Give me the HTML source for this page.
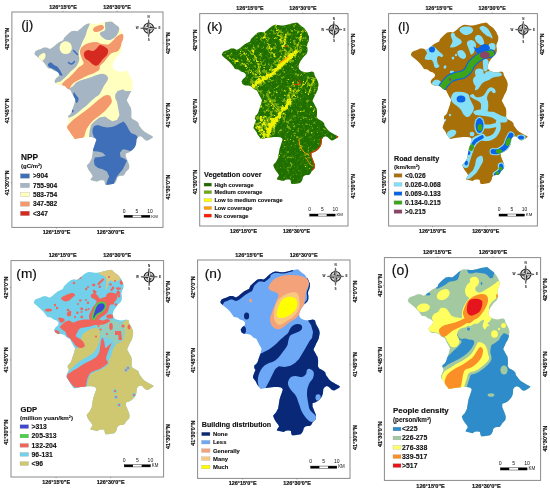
<!DOCTYPE html>
<html><head><meta charset="utf-8"><title>Figure</title>
<style>html,body{margin:0;padding:0;background:#fff}svg{display:block}text{font-family:'Liberation Sans', sans-serif}</style></head><body>
<svg width="550" height="492" viewBox="0 0 550 492">
<rect width="550" height="492" fill="#fff"/>
<defs>
<clipPath id="cj"><polygon points="34.4,53.5 35.6,50.9 37.7,49.9 40.7,48.9 43.8,47.4 46.8,47.4 49.9,48.9 52.5,47.4 55.0,45.4 58.1,42.8 61.1,41.3 63.1,40.3 64.2,37.8 66.2,35.7 68.2,33.7 71.3,31.2 74.4,30.7 77.4,31.2 79.5,29.6 81.5,28.1 83.5,26.1 86.6,24.1 88.6,23.4 91.7,23.6 94.7,24.1 97.3,24.1 99.8,23.6 102.9,22.7 105.4,22.0 108.5,21.5 111.0,21.0 112.6,22.0 114.1,23.6 116.1,25.1 118.2,26.6 119.7,28.6 121.2,30.7 122.2,33.2 123.3,35.2 123.3,37.8 122.8,40.3 121.7,42.3 121.2,44.9 121.7,47.4 121.7,50.4 120.7,53.0 119.2,54.5 117.7,56.0 116.1,58.0 114.6,60.1 113.6,62.1 112.6,65.1 113.1,68.2 115.1,70.2 118.2,71.2 121.2,71.7 123.8,71.2 126.3,70.7 128.4,71.7 128.9,74.3 129.9,76.3 131.4,78.8 132.4,81.4 132.9,83.9 132.4,86.9 131.9,89.5 130.9,92.0 129.4,94.5 128.4,97.1 127.3,99.1 126.8,100.6 127.8,102.2 128.9,104.2 129.9,106.2 130.9,107.7 131.4,110.8 131.4,113.8 131.2,116.9 132.4,118.9 134.5,119.9 137.0,121.4 138.5,122.9 139.1,125.5 140.6,127.5 142.1,129.5 144.2,131.6 146.7,133.1 149.2,134.6 151.3,135.6 153.3,136.9 151.8,138.2 149.2,139.7 147.2,140.7 145.2,140.2 143.6,138.7 142.1,137.1 140.1,136.3 138.0,137.1 136.5,139.2 136.3,141.7 136.0,144.2 135.0,146.8 133.5,148.8 131.4,150.8 128.9,152.4 125.8,153.4 125.8,156.4 126.8,158.9 127.8,161.5 128.9,164.0 129.4,166.6 128.9,169.1 127.3,170.6 125.8,172.1 124.8,174.2 123.3,175.7 120.7,175.7 118.7,176.2 117.2,177.7 116.6,180.2 115.6,182.3 114.1,183.8 111.0,184.3 108.0,184.8 105.4,184.8 104.7,182.8 104.4,180.8 102.9,180.2 100.3,180.2 98.8,180.8 97.3,181.8 95.2,181.3 92.7,180.8 90.5,180.0 91.2,178.2 92.7,176.2 91.7,174.2 90.2,172.1 88.6,170.1 87.6,168.1 86.8,165.5 88.1,164.0 89.6,162.5 90.7,160.5 91.7,158.4 92.2,155.4 92.7,152.4 93.2,149.3 94.2,146.3 95.2,143.2 96.3,140.2 96.3,139.2 94.7,137.7 91.7,137.1 87.6,137.1 83.5,137.7 79.5,138.2 76.9,138.7 74.4,139.2 72.8,137.1 70.8,134.6 69.8,132.1 68.2,130.0 66.7,128.0 67.2,125.5 68.2,122.9 69.3,120.4 68.0,118.4 68.2,115.8 69.8,114.8 71.3,112.8 72.3,109.8 73.3,106.7 74.4,103.7 75.4,99.6 74.9,98.6 73.3,96.1 71.8,93.0 70.3,90.0 67.2,88.5 64.7,85.9 61.6,84.9 58.1,84.9 55.5,83.4 54.5,80.9 56.0,78.3 58.6,76.3 59.1,73.8 57.0,71.7 54.0,70.7 51.4,68.7 47.9,68.2 45.8,65.1 43.8,62.6 41.2,60.1 38.2,57.5 35.1,55.0"/></clipPath>
<clipPath id="ck"><polygon points="221.8,54.5 223.0,52.0 225.0,51.0 228.0,50.0 231.0,48.5 234.0,48.5 237.0,50.0 239.5,48.5 242.0,46.5 245.0,44.0 248.0,42.5 250.0,41.5 251.0,39.0 253.0,37.0 255.0,35.0 258.0,32.5 261.0,32.0 264.0,32.5 266.0,31.0 268.0,29.5 270.0,27.5 273.0,25.5 275.0,24.8 278.0,25.0 281.0,25.5 283.5,25.5 286.0,25.0 289.0,24.2 291.5,23.5 294.5,23.0 297.0,22.5 298.5,23.5 300.0,25.0 302.0,26.5 304.0,28.0 305.5,30.0 307.0,32.0 308.0,34.5 309.0,36.5 309.0,39.0 308.5,41.5 307.5,43.5 307.0,46.0 307.5,48.5 307.5,51.5 306.5,54.0 305.0,55.5 303.5,57.0 302.0,59.0 300.5,61.0 299.5,63.0 298.5,66.0 299.0,69.0 301.0,71.0 304.0,72.0 307.0,72.5 309.5,72.0 312.0,71.5 314.0,72.5 314.5,75.0 315.5,77.0 317.0,79.5 318.0,82.0 318.5,84.5 318.0,87.5 317.5,90.0 316.5,92.5 315.0,95.0 314.0,97.5 313.0,99.5 312.5,101.0 313.5,102.5 314.5,104.5 315.5,106.5 316.5,108.0 317.0,111.0 317.0,114.0 316.8,117.0 318.0,119.0 320.0,120.0 322.5,121.5 324.0,123.0 324.5,125.5 326.0,127.5 327.5,129.5 329.5,131.5 332.0,133.0 334.5,134.5 336.5,135.5 338.5,136.8 337.0,138.0 334.5,139.5 332.5,140.5 330.5,140.0 329.0,138.5 327.5,137.0 325.5,136.2 323.5,137.0 322.0,139.0 321.8,141.5 321.5,144.0 320.5,146.5 319.0,148.5 317.0,150.5 314.5,152.0 311.5,153.0 311.5,156.0 312.5,158.5 313.5,161.0 314.5,163.5 315.0,166.0 314.5,168.5 313.0,170.0 311.5,171.5 310.5,173.5 309.0,175.0 306.5,175.0 304.5,175.5 303.0,177.0 302.5,179.5 301.5,181.5 300.0,183.0 297.0,183.5 294.0,184.0 291.5,184.0 290.8,182.0 290.5,180.0 289.0,179.5 286.5,179.5 285.0,180.0 283.5,181.0 281.5,180.5 279.0,180.0 276.8,179.3 277.5,177.5 279.0,175.5 278.0,173.5 276.5,171.5 275.0,169.5 274.0,167.5 273.2,165.0 274.5,163.5 276.0,162.0 277.0,160.0 278.0,158.0 278.5,155.0 279.0,152.0 279.5,149.0 280.5,146.0 281.5,143.0 282.5,140.0 282.5,139.0 281.0,137.5 278.0,137.0 274.0,137.0 270.0,137.5 266.0,138.0 263.5,138.5 261.0,139.0 259.5,137.0 257.5,134.5 256.5,132.0 255.0,130.0 253.5,128.0 254.0,125.5 255.0,123.0 256.0,120.5 254.8,118.5 255.0,116.0 256.5,115.0 258.0,113.0 259.0,110.0 260.0,107.0 261.0,104.0 262.0,100.0 261.5,99.0 260.0,96.5 258.5,93.5 257.0,90.5 254.0,89.0 251.5,86.5 248.5,85.5 245.0,85.5 242.5,84.0 241.5,81.5 243.0,79.0 245.5,77.0 246.0,74.5 244.0,72.5 241.0,71.5 238.5,69.5 235.0,69.0 233.0,66.0 231.0,63.5 228.5,61.0 225.5,58.5 222.5,56.0"/></clipPath>
<clipPath id="cl"><polygon points="410.8,54.5 412.0,52.0 414.0,51.0 417.0,50.0 420.0,48.5 423.0,48.5 426.0,50.0 428.5,48.5 431.0,46.5 434.1,44.0 437.1,42.5 439.1,41.5 440.1,39.0 442.1,37.0 444.1,35.0 447.1,32.5 450.1,32.0 453.1,32.5 455.1,31.0 457.1,29.5 459.1,27.5 462.1,25.5 464.2,24.8 467.2,25.0 470.2,25.5 472.7,25.5 475.2,25.0 478.2,24.2 480.7,23.5 483.7,23.0 486.2,22.5 487.7,23.5 489.2,25.0 491.2,26.5 493.3,28.0 494.8,30.0 496.3,32.0 497.3,34.5 498.3,36.5 498.3,39.0 497.8,41.5 496.8,43.5 496.3,46.0 496.8,48.5 496.8,51.5 495.8,54.0 494.3,55.5 492.7,57.0 491.2,59.0 489.7,61.0 488.7,63.0 487.7,66.0 488.2,69.0 490.2,71.0 493.3,72.0 496.3,72.5 498.8,72.0 501.3,71.5 503.3,72.5 503.8,75.0 504.8,77.0 506.3,79.5 507.3,82.0 507.8,84.5 507.3,87.5 506.8,90.0 505.8,92.5 504.3,95.0 503.3,97.5 502.3,99.5 501.8,101.0 502.8,102.5 503.8,104.5 504.8,106.5 505.8,108.0 506.3,111.0 506.3,114.0 506.1,117.0 507.3,119.0 509.3,120.0 511.8,121.5 513.3,123.0 513.8,125.5 515.3,127.5 516.8,129.5 518.8,131.5 521.3,133.0 523.9,134.5 525.9,135.5 527.9,136.8 526.4,138.0 523.9,139.5 521.8,140.5 519.8,140.0 518.3,138.5 516.8,137.0 514.8,136.2 512.8,137.0 511.3,139.0 511.1,141.5 510.8,144.0 509.8,146.5 508.3,148.5 506.3,150.5 503.8,152.0 500.8,153.0 500.8,156.0 501.8,158.5 502.8,161.0 503.8,163.5 504.3,166.0 503.8,168.5 502.3,170.0 500.8,171.5 499.8,173.5 498.3,175.0 495.8,175.0 493.8,175.5 492.2,177.0 491.7,179.5 490.7,181.5 489.2,183.0 486.2,183.5 483.2,184.0 480.7,184.0 480.0,182.0 479.7,180.0 478.2,179.5 475.7,179.5 474.2,180.0 472.7,181.0 470.7,180.5 468.2,180.0 466.0,179.3 466.7,177.5 468.2,175.5 467.2,173.5 465.7,171.5 464.2,169.5 463.2,167.5 462.3,165.0 463.7,163.5 465.2,162.0 466.2,160.0 467.2,158.0 467.7,155.0 468.2,152.0 468.7,149.0 469.7,146.0 470.7,143.0 471.7,140.0 471.7,139.0 470.2,137.5 467.2,137.0 463.2,137.0 459.1,137.5 455.1,138.0 452.6,138.5 450.1,139.0 448.6,137.0 446.6,134.5 445.6,132.0 444.1,130.0 442.6,128.0 443.1,125.5 444.1,123.0 445.1,120.5 443.9,118.5 444.1,116.0 445.6,115.0 447.1,113.0 448.1,110.0 449.1,107.0 450.1,104.0 451.1,100.0 450.6,99.0 449.1,96.5 447.6,93.5 446.1,90.5 443.1,89.0 440.6,86.5 437.6,85.5 434.1,85.5 431.5,84.0 430.5,81.5 432.0,79.0 434.6,77.0 435.1,74.5 433.0,72.5 430.0,71.5 427.5,69.5 424.0,69.0 422.0,66.0 420.0,63.5 417.5,61.0 414.5,58.5 411.5,56.0"/></clipPath>
<clipPath id="cm"><polygon points="33.7,302.3 35.0,299.7 37.0,298.7 40.1,297.7 43.2,296.2 46.3,296.2 49.4,297.7 52.0,296.2 54.5,294.1 57.6,291.6 60.7,290.0 62.8,289.0 63.8,286.5 65.8,284.4 67.9,282.4 71.0,279.9 74.1,279.3 77.2,279.9 79.2,278.3 81.3,276.8 83.3,274.8 86.4,272.7 88.5,272.0 91.6,272.2 94.7,272.7 97.2,272.7 99.8,272.2 102.9,271.4 105.5,270.7 108.5,270.2 111.1,269.7 112.7,270.7 114.2,272.2 116.3,273.7 118.3,275.3 119.9,277.3 121.4,279.3 122.4,281.9 123.5,283.9 123.5,286.5 123.0,289.0 121.9,291.1 121.4,293.6 121.9,296.2 121.9,299.2 120.9,301.8 119.4,303.3 117.8,304.8 116.3,306.9 114.7,308.9 113.7,310.9 112.7,314.0 113.2,317.0 115.2,319.1 118.3,320.1 121.4,320.6 124.0,320.1 126.6,319.6 128.6,320.6 129.1,323.2 130.2,325.2 131.7,327.7 132.7,330.3 133.2,332.8 132.7,335.9 132.2,338.4 131.2,341.0 129.6,343.5 128.6,346.1 127.6,348.1 127.1,349.6 128.1,351.2 129.1,353.2 130.2,355.2 131.2,356.8 131.7,359.8 131.7,362.9 131.5,365.9 132.7,368.0 134.8,369.0 137.4,370.5 138.9,372.1 139.4,374.6 141.0,376.6 142.5,378.7 144.6,380.7 147.1,382.2 149.7,383.8 151.8,384.8 153.8,386.1 152.3,387.3 149.7,388.9 147.7,389.9 145.6,389.4 144.0,387.9 142.5,386.3 140.4,385.5 138.4,386.3 136.8,388.4 136.6,390.9 136.3,393.5 135.3,396.0 133.8,398.0 131.7,400.1 129.1,401.6 126.0,402.6 126.0,405.7 127.1,408.2 128.1,410.8 129.1,413.3 129.6,415.9 129.1,418.4 127.6,419.9 126.0,421.5 125.0,423.5 123.5,425.0 120.9,425.0 118.8,425.5 117.3,427.1 116.8,429.6 115.8,431.7 114.2,433.2 111.1,433.7 108.0,434.2 105.5,434.2 104.7,432.2 104.4,430.1 102.9,429.6 100.3,429.6 98.8,430.1 97.2,431.2 95.2,430.6 92.6,430.1 90.3,429.4 91.1,427.6 92.6,425.5 91.6,423.5 90.0,421.5 88.5,419.4 87.5,417.4 86.6,414.9 88.0,413.3 89.5,411.8 90.5,409.8 91.6,407.7 92.1,404.7 92.6,401.6 93.1,398.5 94.1,395.5 95.2,392.4 96.2,389.4 96.2,388.4 94.7,386.8 91.6,386.3 87.5,386.3 83.3,386.8 79.2,387.3 76.6,387.9 74.1,388.4 72.5,386.3 70.5,383.8 69.4,381.2 67.9,379.2 66.4,377.2 66.9,374.6 67.9,372.1 68.9,369.5 67.7,367.5 67.9,364.9 69.4,363.9 71.0,361.9 72.0,358.8 73.0,355.8 74.1,352.7 75.1,348.6 74.6,347.6 73.0,345.1 71.5,342.0 70.0,338.9 66.9,337.4 64.3,334.9 61.2,333.9 57.6,333.9 55.0,332.3 54.0,329.8 55.6,327.2 58.1,325.2 58.6,322.6 56.6,320.6 53.5,319.6 50.9,317.6 47.3,317.0 45.3,314.0 43.2,311.4 40.6,308.9 37.5,306.3 34.5,303.8"/></clipPath>
<clipPath id="cn"><polygon points="220.3,302.1 221.5,299.5 223.6,298.5 226.7,297.4 229.8,295.9 232.8,295.9 235.9,297.4 238.5,295.9 241.1,293.8 244.2,291.3 247.2,289.7 249.3,288.7 250.3,286.1 252.4,284.1 254.4,282.0 257.5,279.4 260.6,278.9 263.7,279.4 265.7,277.9 267.8,276.3 269.8,274.3 272.9,272.2 275.0,271.5 278.1,271.7 281.1,272.2 283.7,272.2 286.3,271.7 289.4,270.9 291.9,270.2 295.0,269.7 297.6,269.2 299.1,270.2 300.7,271.7 302.7,273.3 304.8,274.8 306.3,276.9 307.9,278.9 308.9,281.5 309.9,283.5 309.9,286.1 309.4,288.7 308.4,290.7 307.9,293.3 308.4,295.9 308.4,299.0 307.4,301.5 305.8,303.1 304.3,304.6 302.7,306.7 301.2,308.7 300.2,310.8 299.1,313.9 299.6,317.0 301.7,319.0 304.8,320.0 307.9,320.6 310.4,320.0 313.0,319.5 315.1,320.6 315.6,323.1 316.6,325.2 318.1,327.8 319.2,330.3 319.7,332.9 319.2,336.0 318.7,338.6 317.6,341.1 316.1,343.7 315.1,346.3 314.0,348.3 313.5,349.9 314.5,351.4 315.6,353.5 316.6,355.5 317.6,357.1 318.1,360.2 318.1,363.2 317.9,366.3 319.2,368.4 321.2,369.4 323.8,370.9 325.3,372.5 325.9,375.1 327.4,377.1 328.9,379.2 331.0,381.2 333.6,382.8 336.1,384.3 338.2,385.3 340.2,386.7 338.7,387.9 336.1,389.5 334.1,390.5 332.0,390.0 330.5,388.4 328.9,386.9 326.9,386.1 324.8,386.9 323.3,388.9 323.1,391.5 322.8,394.1 321.7,396.7 320.2,398.7 318.1,400.8 315.6,402.3 312.5,403.3 312.5,406.4 313.5,409.0 314.5,411.6 315.6,414.1 316.1,416.7 315.6,419.3 314.0,420.8 312.5,422.4 311.5,424.4 309.9,426.0 307.4,426.0 305.3,426.5 303.8,428.0 303.2,430.6 302.2,432.6 300.7,434.2 297.6,434.7 294.5,435.2 291.9,435.2 291.2,433.2 290.9,431.1 289.4,430.6 286.8,430.6 285.3,431.1 283.7,432.1 281.7,431.6 279.1,431.1 276.8,430.4 277.6,428.5 279.1,426.5 278.1,424.4 276.5,422.4 275.0,420.3 274.0,418.2 273.1,415.7 274.5,414.1 276.0,412.6 277.0,410.5 278.1,408.5 278.6,405.4 279.1,402.3 279.6,399.2 280.6,396.1 281.7,393.1 282.7,390.0 282.7,388.9 281.1,387.4 278.1,386.9 274.0,386.9 269.8,387.4 265.7,387.9 263.2,388.4 260.6,388.9 259.1,386.9 257.0,384.3 256.0,381.7 254.4,379.7 252.9,377.6 253.4,375.1 254.4,372.5 255.5,369.9 254.2,367.9 254.4,365.3 256.0,364.3 257.5,362.2 258.5,359.1 259.6,356.0 260.6,353.0 261.6,348.8 261.1,347.8 259.6,345.2 258.0,342.2 256.5,339.1 253.4,337.5 250.8,335.0 247.7,333.9 244.2,333.9 241.6,332.4 240.6,329.8 242.1,327.2 244.7,325.2 245.2,322.6 243.1,320.6 240.0,319.5 237.5,317.5 233.9,317.0 231.8,313.9 229.8,311.3 227.2,308.7 224.1,306.2 221.0,303.6"/></clipPath>
<clipPath id="co"><polygon points="407.7,300.5 408.9,297.9 411.0,296.8 414.2,295.8 417.4,294.2 420.5,294.2 423.7,295.8 426.3,294.2 429.0,292.1 432.1,289.5 435.3,287.9 437.4,286.9 438.4,284.2 440.5,282.1 442.6,280.0 445.8,277.4 449.0,276.9 452.1,277.4 454.2,275.9 456.3,274.3 458.4,272.2 461.6,270.1 463.7,269.3 466.9,269.6 470.0,270.1 472.7,270.1 475.3,269.6 478.5,268.7 481.1,268.0 484.3,267.5 486.9,266.9 488.5,268.0 490.0,269.6 492.1,271.1 494.3,272.7 495.8,274.8 497.4,276.9 498.5,279.5 499.5,281.6 499.5,284.2 499.0,286.9 497.9,289.0 497.4,291.6 497.9,294.2 497.9,297.4 496.9,300.0 495.3,301.6 493.7,303.1 492.1,305.2 490.6,307.3 489.5,309.4 488.5,312.6 489.0,315.7 491.1,317.8 494.3,318.9 497.4,319.4 500.0,318.9 502.7,318.3 504.8,319.4 505.3,322.0 506.4,324.1 507.9,326.7 509.0,329.3 509.5,332.0 509.0,335.1 508.5,337.7 507.4,340.4 505.8,343.0 504.8,345.6 503.7,347.7 503.2,349.3 504.3,350.9 505.3,353.0 506.4,355.0 507.4,356.6 507.9,359.8 507.9,362.9 507.7,366.1 509.0,368.2 511.1,369.2 513.7,370.8 515.3,372.4 515.8,375.0 517.4,377.1 519.0,379.2 521.1,381.3 523.7,382.8 526.4,384.4 528.5,385.5 530.6,386.8 529.0,388.1 526.4,389.7 524.3,390.7 522.2,390.2 520.6,388.6 519.0,387.0 516.9,386.2 514.8,387.0 513.2,389.1 513.0,391.8 512.7,394.4 511.6,397.0 510.1,399.1 507.9,401.2 505.3,402.8 502.2,403.8 502.2,407.0 503.2,409.6 504.3,412.2 505.3,414.8 505.8,417.5 505.3,420.1 503.7,421.7 502.2,423.2 501.1,425.3 499.5,426.9 496.9,426.9 494.8,427.4 493.2,429.0 492.7,431.6 491.6,433.7 490.0,435.3 486.9,435.8 483.7,436.3 481.1,436.3 480.4,434.2 480.0,432.1 478.5,431.6 475.8,431.6 474.2,432.1 472.7,433.2 470.6,432.7 467.9,432.1 465.6,431.4 466.3,429.5 467.9,427.4 466.9,425.3 465.3,423.2 463.7,421.1 462.7,419.0 461.8,416.4 463.2,414.8 464.8,413.3 465.8,411.2 466.9,409.1 467.4,405.9 467.9,402.8 468.5,399.6 469.5,396.5 470.6,393.3 471.6,390.2 471.6,389.1 470.0,387.6 466.9,387.0 462.7,387.0 458.4,387.6 454.2,388.1 451.6,388.6 449.0,389.1 447.4,387.0 445.3,384.4 444.2,381.8 442.6,379.7 441.1,377.6 441.6,375.0 442.6,372.4 443.7,369.7 442.4,367.6 442.6,365.0 444.2,364.0 445.8,361.9 446.9,358.7 447.9,355.6 449.0,352.4 450.0,348.2 449.5,347.2 447.9,344.6 446.3,341.4 444.8,338.3 441.6,336.7 439.0,334.1 435.8,333.0 432.1,333.0 429.5,331.4 428.4,328.8 430.0,326.2 432.6,324.1 433.2,321.5 431.1,319.4 427.9,318.3 425.3,316.2 421.6,315.7 419.5,312.6 417.4,309.9 414.7,307.3 411.6,304.7 408.4,302.1"/></clipPath>
<pattern id="dith" width="2.4" height="2.4" patternUnits="userSpaceOnUse"><rect width="2.4" height="2.4" fill="#72D0EA"/><rect width="1.2" height="1.2" fill="#D0C870"/><rect x="1.2" y="1.2" width="1.2" height="1.2" fill="#D0C870" opacity="0.5"/></pattern><filter id="spk" x="0" y="0" width="100%" height="100%" color-interpolation-filters="sRGB"><feTurbulence type="fractalNoise" baseFrequency="0.42" numOctaves="2" seed="7"/><feColorMatrix type="matrix" values="0 0 0 0 0.46  0 0 0 0 0.68  0 0 0 0 0.06  9 0 0 0 -4.6"/></filter><filter id="spk2" x="0" y="0" width="100%" height="100%" color-interpolation-filters="sRGB"><feTurbulence type="fractalNoise" baseFrequency="0.5" numOctaves="2" seed="23"/><feColorMatrix type="matrix" values="0 0 0 0 0.86  0 0 0 0 0.92  0 0 0 0 0.08  0 10 0 0 -4.7"/></filter><filter id="bl3"><feGaussianBlur stdDeviation="2.2"/></filter><filter id="bl1"><feGaussianBlur stdDeviation="0.7"/></filter><pattern id="dith2" width="2.4" height="2.4" patternUnits="userSpaceOnUse"><rect width="2.4" height="2.4" fill="#D0C870"/><rect width="1.2" height="1.2" fill="#72D0EA"/></pattern>
</defs>
<g id="panel-j">
<rect x="11.9" y="12.0" width="151.1" height="215.4" fill="#fff" stroke="#8a8a8a" stroke-width="1"/>
<g clip-path="url(#cj)">
<rect x="11.9" y="12.0" width="151.1" height="215.4" fill="#FFFFBF"/><path d="M90.4,16.0C102.5,17.5 90.3,21.5 89.8,24.0C89.2,26.5 88.2,27.3 87.4,29.4C86.6,31.5 86.4,33.2 85.6,35.4C84.8,37.6 83.8,39.0 82.8,41.2C81.8,43.4 81.2,45.0 80.4,47.2C79.6,49.4 78.8,50.7 78.6,53.0C78.4,55.3 79.6,57.5 79.2,60.0C78.8,62.5 77.8,64.2 76.2,66.4C74.6,68.6 72.3,69.9 70.4,71.8C68.5,73.7 67.4,75.3 65.6,77.0C63.8,78.7 62.6,80.1 60.8,81.2C59.0,82.3 57.6,81.8 55.6,83.0C53.6,84.2 55.8,87.1 50.0,88.0C44.2,88.9 28.8,101.2 24.0,88.0C19.2,74.8 11.8,29.2 24.0,16.0C36.2,2.8 78.3,14.5 90.4,16.0Z" fill="#A5B5C4" /><ellipse cx="65.7" cy="47.7" rx="6.2" ry="6.4" fill="#FFFFBF" transform="rotate(0 65.7 47.7)"/><path d="M39.0,56.0C39.9,54.5 42.8,53.0 44.0,53.0C45.2,53.0 45.7,54.6 45.5,56.0C45.3,57.4 44.2,59.6 43.0,60.5C41.8,61.4 39.7,61.8 39.0,61.0C38.3,60.2 38.1,57.5 39.0,56.0Z" fill="#FFFFBF" /><path d="M106.0,22.0C107.7,21.4 111.6,21.1 114.0,22.0C116.4,22.9 118.3,25.0 119.0,27.0C119.7,29.0 118.9,31.0 118.0,33.0C117.1,35.0 115.8,36.7 114.0,38.0C112.2,39.3 110.2,40.2 108.0,40.0C105.8,39.8 103.5,38.3 102.0,37.0C100.5,35.7 99.5,34.3 100.0,33.0C100.5,31.7 104.1,31.5 105.0,30.0C105.9,28.5 104.8,26.5 105.0,25.0C105.2,23.5 104.3,22.6 106.0,22.0Z" fill="#A5B5C4" /><path d="M73.3,85.7C74.5,84.6 75.1,83.3 76.8,82.2C78.5,81.1 80.5,80.6 82.7,79.8C84.9,79.0 86.4,78.8 88.6,78.0C90.8,77.2 92.4,76.5 94.6,75.7C96.8,74.9 98.6,74.1 100.5,73.9C102.4,73.7 103.8,73.7 105.2,74.5C106.6,75.3 107.9,76.6 108.1,78.0C108.3,79.4 107.2,80.8 106.4,82.2C105.6,83.6 104.9,84.2 104.0,85.7C103.1,87.2 102.5,88.9 101.6,90.5C100.7,92.1 100.6,93.2 99.3,94.6C98.0,96.0 96.2,96.8 94.6,98.1C93.0,99.4 91.9,100.3 90.4,101.7C88.9,103.1 87.9,104.4 86.3,105.8C84.7,107.2 83.2,108.0 81.5,109.4C79.8,110.8 78.5,112.2 76.8,113.5C75.1,114.8 73.7,115.7 72.1,116.5C70.5,117.3 69.9,117.3 68.0,117.6C66.1,117.9 63.1,122.7 62.0,118.0C60.9,113.3 60.5,97.5 62.0,92.0C63.5,86.5 67.9,89.2 70.0,88.0C72.1,86.8 72.1,86.8 73.3,85.7Z" fill="#A5B5C4" /><polygon points="135.0,92.0 130.0,91.0 125.3,91.0 122.9,89.3 117.6,91.0 115.2,94.6 115.2,98.1 117.0,102.0 118.2,108.2 119.4,115.3 117.0,120.0 112.3,121.2 108.1,118.8 105.2,116.5 99.3,117.6 94.0,121.8 91.0,125.0 89.6,131.0 89.0,137.0 84.0,140.0 70.0,142.0 70.0,200.0 170.0,200.0 170.0,92.0" fill="#A5B5C4" /><polygon points="94.0,126.0 98.0,125.0 102.0,126.5 107.0,127.5 112.0,127.0 116.0,125.5 119.5,123.5 123.5,121.5 125.0,123.0 127.0,126.0 129.0,130.0 131.0,133.0 136.0,135.0 139.0,139.0 138.5,146.0 135.5,150.0 129.9,151.0 126.4,149.8 122.8,149.2 119.9,152.7 120.5,156.9 124.0,158.6 127.0,160.4 125.2,164.6 122.8,169.3 119.9,172.8 116.9,176.4 115.1,180.5 112.8,186.0 105.7,186.0 107.5,179.9 109.2,176.4 106.9,171.6 102.7,169.3 98.0,168.1 94.5,165.1 93.9,160.4 95.0,157.5 100.4,156.9 105.7,155.7 102.7,152.7 98.0,151.5 91.0,151.0 91.0,139.0 94.0,137.0 92.5,133.0 92.5,129.5" fill="#3F6FB8" /><path d="M48.5,63.5C49.0,63.0 50.0,62.2 51.0,62.5C52.0,62.8 52.9,64.3 54.0,65.0C55.1,65.7 56.0,65.7 57.0,66.5C58.0,67.3 58.7,68.3 59.5,69.5C60.3,70.7 61.0,71.9 61.5,73.0C62.0,74.1 62.8,75.1 62.5,75.5C62.2,75.9 60.9,75.6 60.0,75.0C59.1,74.4 58.4,72.9 57.5,72.0C56.6,71.1 56.0,70.6 55.0,70.0C54.0,69.4 53.0,69.0 52.0,68.5C51.0,68.0 50.2,68.0 49.5,67.5C48.8,67.0 48.2,66.2 48.0,65.5C47.8,64.8 48.0,64.0 48.5,63.5Z" fill="#3F6FB8" /><path d="M68.5,62.5C69.0,62.8 70.4,64.2 71.5,64.0C72.6,63.8 74.0,62.0 74.5,61.5" fill="none" stroke="#3F6FB8" stroke-width="1.50" stroke-linecap="round" stroke-linejoin="round" /><path d="M73.5,50.5C74.2,51.2 76.8,53.8 77.5,54.5" fill="none" stroke="#3F6FB8" stroke-width="1.60" stroke-linecap="round" stroke-linejoin="round" /><path d="M73.9,92.2C74.4,92.1 75.3,94.0 76.2,95.2C77.1,96.4 78.5,97.3 78.6,98.7C78.7,100.1 77.5,102.7 76.8,102.9C76.1,103.1 75.6,101.3 75.0,100.0C74.4,98.7 73.7,97.2 73.5,95.8C73.3,94.4 73.4,92.3 73.9,92.2Z" fill="#3F6FB8" /><ellipse cx="72.7" cy="111.0" rx="1.0" ry="1.5" fill="#3F6FB8" transform="rotate(0 72.7 111.0)"/><path d="M93.0,29.0C93.4,27.9 95.3,26.7 97.0,26.0C98.7,25.3 100.7,24.6 102.0,25.0C103.3,25.4 104.4,26.9 104.0,28.0C103.6,29.1 101.7,30.3 100.0,31.0C98.3,31.7 96.3,32.4 95.0,32.0C93.7,31.6 92.6,30.1 93.0,29.0Z" fill="#F4996D" /><path d="M80.0,51.0C80.3,48.8 81.3,47.5 83.0,46.0C84.7,44.5 86.6,43.7 89.0,43.0C91.4,42.3 93.6,41.8 96.0,42.0C98.4,42.2 99.8,43.6 102.0,44.0C104.2,44.4 106.5,44.6 108.0,44.4C109.5,44.2 109.4,43.8 110.4,43.0C111.4,42.2 112.3,41.2 113.5,40.0C114.7,38.8 115.5,37.5 117.0,36.4C118.5,35.3 120.4,34.3 121.6,34.0C122.8,33.7 123.3,33.7 123.8,34.8C124.3,35.9 124.9,37.9 124.4,40.0C123.9,42.1 122.2,44.0 121.0,46.0C119.8,48.0 119.7,49.7 118.0,51.0C116.3,52.3 113.8,51.9 112.0,53.0C110.2,54.1 109.5,55.4 108.0,57.0C106.5,58.6 105.5,60.4 104.0,62.0C102.5,63.6 100.9,64.6 100.0,66.0C99.1,67.4 100.3,68.6 99.3,69.8C98.3,71.0 96.6,71.7 94.6,72.7C92.6,73.7 90.8,74.1 88.6,75.1C86.4,76.1 84.9,76.9 82.7,78.0C80.5,79.1 78.8,79.8 76.8,81.0C74.8,82.2 73.4,82.9 72.0,84.4C70.6,85.9 70.2,88.2 69.0,89.0C67.8,89.8 66.7,89.4 65.5,89.0C64.3,88.6 63.2,87.6 62.5,86.7C61.8,85.8 61.4,85.5 61.9,84.3C62.4,83.1 64.1,81.6 65.5,80.2C66.9,78.8 68.0,78.4 69.7,76.9C71.4,75.4 73.0,73.7 74.5,72.1C76.0,70.5 76.7,69.2 78.0,68.0C79.3,66.8 80.6,66.5 81.6,65.6C82.6,64.7 83.6,64.4 83.6,63.0C83.6,61.6 82.3,60.2 81.6,58.0C80.9,55.8 79.7,53.2 80.0,51.0Z" fill="#F4996D" /><path d="M84.0,53.0C84.5,51.5 86.3,50.4 88.0,50.0C89.7,49.6 91.3,51.4 93.0,51.0C94.7,50.6 95.7,49.1 97.0,48.0C98.3,46.9 98.5,45.2 100.0,45.0C101.5,44.8 103.5,46.1 105.0,47.0C106.5,47.9 107.6,48.5 108.0,50.0C108.4,51.5 107.9,53.4 107.0,55.0C106.1,56.6 104.3,57.5 103.0,59.0C101.7,60.5 101.1,61.8 100.0,63.0C98.9,64.2 98.3,65.3 97.0,65.6C95.7,65.9 94.5,65.2 93.0,64.4C91.5,63.6 90.5,62.2 89.0,61.0C87.5,59.8 85.9,59.5 85.0,58.0C84.1,56.5 83.5,54.5 84.0,53.0Z" fill="#D62A20" /><path d="M105.0,95.5C106.2,95.0 107.0,94.8 108.0,95.0C109.0,95.2 109.8,95.4 110.5,96.4C111.2,97.4 111.6,99.2 111.7,100.5C111.8,101.8 112.1,101.9 111.1,103.5C110.1,105.1 108.3,107.3 106.4,109.4C104.5,111.5 102.7,112.8 100.5,114.7C98.3,116.6 96.3,117.7 94.3,119.5C92.3,121.3 91.1,122.6 89.6,124.6C88.1,126.6 87.0,128.3 86.0,130.5C85.0,132.7 85.1,135.0 84.2,136.4C83.3,137.8 82.9,137.6 81.3,138.1C79.7,138.6 76.9,139.6 75.4,139.3C73.9,139.0 74.2,137.9 73.0,136.4C71.8,134.9 70.1,132.7 69.0,131.0C67.9,129.3 67.0,128.3 67.1,126.9C67.2,125.5 68.1,124.9 69.5,123.4C70.9,121.9 72.3,120.6 74.5,118.8C76.7,117.0 78.9,115.4 81.5,113.5C84.1,111.6 86.0,110.3 88.6,108.2C91.2,106.1 93.3,104.3 95.7,102.3C98.1,100.3 99.9,98.7 101.6,97.5C103.3,96.3 103.8,96.0 105.0,95.5Z" fill="#F4996D" />
</g>
<text x="63.06" y="8.74" font-size="5.40" font-weight="bold" text-anchor="middle" fill="#111" stroke="#111" stroke-width="0.18">126°15'0&quot;E</text><line x1="63.06" y1="10.80" x2="63.06" y2="12.00" stroke="#777" stroke-width="0.6"/><text x="117.04" y="8.74" font-size="5.40" font-weight="bold" text-anchor="middle" fill="#111" stroke="#111" stroke-width="0.18">126°30'0&quot;E</text><line x1="117.04" y1="10.80" x2="117.04" y2="12.00" stroke="#777" stroke-width="0.6"/><text x="56.57" y="234.33" font-size="5.40" font-weight="bold" text-anchor="middle" fill="#111" stroke="#111" stroke-width="0.18">126°15'0&quot;E</text><line x1="56.57" y1="227.40" x2="56.57" y2="228.60" stroke="#777" stroke-width="0.6"/><text x="110.54" y="234.33" font-size="5.40" font-weight="bold" text-anchor="middle" fill="#111" stroke="#111" stroke-width="0.18">126°30'0&quot;E</text><line x1="110.54" y1="227.40" x2="110.54" y2="228.60" stroke="#777" stroke-width="0.6"/><text transform="translate(9.15,38.88) rotate(-90)" font-size="5.40" font-weight="bold" text-anchor="middle" fill="#111" stroke="#111" stroke-width="0.18">42°0'0&quot;N</text><line x1="10.70" y1="38.88" x2="11.90" y2="38.88" stroke="#777" stroke-width="0.6"/><text transform="translate(9.15,110.87) rotate(-90)" font-size="5.40" font-weight="bold" text-anchor="middle" fill="#111" stroke="#111" stroke-width="0.18">41°45'0&quot;N</text><line x1="10.70" y1="110.87" x2="11.90" y2="110.87" stroke="#777" stroke-width="0.6"/><text transform="translate(9.15,182.77) rotate(-90)" font-size="5.40" font-weight="bold" text-anchor="middle" fill="#111" stroke="#111" stroke-width="0.18">41°30'0&quot;N</text><line x1="10.70" y1="182.77" x2="11.90" y2="182.77" stroke="#777" stroke-width="0.6"/><text transform="translate(169.62,43.08) rotate(-90)" font-size="5.40" font-weight="bold" text-anchor="middle" fill="#111" stroke="#111" stroke-width="0.18">42°0'0&quot;N</text><line x1="163.00" y1="43.08" x2="164.20" y2="43.08" stroke="#777" stroke-width="0.6"/><text transform="translate(169.62,115.09) rotate(-90)" font-size="5.40" font-weight="bold" text-anchor="middle" fill="#111" stroke="#111" stroke-width="0.18">41°45'0&quot;N</text><line x1="163.00" y1="115.09" x2="164.20" y2="115.09" stroke="#777" stroke-width="0.6"/><text transform="translate(169.62,187.10) rotate(-90)" font-size="5.40" font-weight="bold" text-anchor="middle" fill="#111" stroke="#111" stroke-width="0.18">41°30'0&quot;N</text><line x1="163.00" y1="187.10" x2="164.20" y2="187.10" stroke="#777" stroke-width="0.6"/>
<g transform="translate(148.65,28.20) scale(1.019)"><circle r="4.8" fill="#fff" stroke="#1a1a1a" stroke-width="1.05"/><circle r="3.1" fill="#f3f9fb" stroke="#777" stroke-width="0.3"/><path d="M0,0 L-0.9,-0.9 L-4.3,-4.3 L-0.9,0.9 Z M0,0 L0.9,-0.9 L4.3,-4.3 L0.9,0.9Z M0,0 L0.9,0.9 L4.3,4.3 L-0.9,0.9Z M0,0 L-0.9,0.9 L-4.3,4.3 L-0.9,-0.9Z" fill="#555" opacity="0.28"/><path d="M0,-8.4 L1.4,-1.4 L8,0 L1.4,1.4 L0,8.8 L-1.4,1.4 L-8,0 L-1.4,-1.4 Z" fill="#fff" stroke="#222" stroke-width="0.45"/><path d="M0,-8.4 L0,0 L-1.4,-1.4 Z M8,0 L0,0 L1.4,-1.4 Z M0,8.8 L0,0 L1.4,1.4Z M-8,0 L0,0 L-1.4,1.4Z" fill="#222"/><text x="0.0" y="-10.0" font-size="3" font-weight="bold" text-anchor="middle" fill="#111">N</text><text x="0.0" y="12.9" font-size="3" font-weight="bold" text-anchor="middle" fill="#111">S</text><text x="-11.3" y="1.0" font-size="3" font-weight="bold" text-anchor="middle" fill="#111">W</text><text x="10.7" y="1.0" font-size="3" font-weight="bold" text-anchor="middle" fill="#111">E</text></g>
<rect x="124.02" y="215.24" width="25.91" height="2.14" fill="#fff" stroke="#000" stroke-width="0.4"/><rect x="124.02" y="215.24" width="8.64" height="2.14" fill="#000"/><rect x="141.29" y="215.24" width="8.64" height="2.14" fill="#000"/><text x="124.02" y="212.64" font-size="4.99" text-anchor="middle" fill="#111">0</text><text x="136.97" y="212.64" font-size="4.99" text-anchor="middle" fill="#111">5</text><text x="149.93" y="212.64" font-size="4.99" text-anchor="middle" fill="#111">10</text><text x="151.25" y="217.63" font-size="4.38" fill="#111">KM</text>
<text x="21.0" y="159.7" font-size="8.3" font-weight="bold" fill="#111" stroke="#111" stroke-width="0.15">NPP</text><text x="21.0" y="168.4" font-size="6.0" font-weight="bold" fill="#111" stroke="#111" stroke-width="0.1">(gC/m²)</text><rect x="20.4" y="173.75" width="9.1" height="4.5" fill="#3F6FB8" stroke="#999" stroke-width="0.25"/><text x="33.0" y="178.38" font-size="6.6" font-weight="bold" fill="#111" stroke="#111" stroke-width="0.12">&gt;904</text><rect x="20.4" y="183.15" width="9.1" height="4.5" fill="#A5B5C4" stroke="#999" stroke-width="0.25"/><text x="33.0" y="187.78" font-size="6.6" font-weight="bold" fill="#111" stroke="#111" stroke-width="0.12">755-904</text><rect x="20.4" y="192.35" width="9.1" height="4.5" fill="#FFFFBF" stroke="#999" stroke-width="0.25"/><text x="33.0" y="196.98" font-size="6.6" font-weight="bold" fill="#111" stroke="#111" stroke-width="0.12">583-754</text><rect x="20.4" y="201.75" width="9.1" height="4.5" fill="#F4996D" stroke="#999" stroke-width="0.25"/><text x="33.0" y="206.38" font-size="6.6" font-weight="bold" fill="#111" stroke="#111" stroke-width="0.12">347-582</text><rect x="20.4" y="211.15" width="9.1" height="4.5" fill="#D62A20" stroke="#999" stroke-width="0.25"/><text x="33.0" y="215.78" font-size="6.6" font-weight="bold" fill="#111" stroke="#111" stroke-width="0.12">&lt;347</text>
<text x="27.3" y="29.2" font-size="13.6" text-anchor="middle" fill="#111" stroke="#111" stroke-width="0.2">(j)</text>
</g>
<g id="panel-k">
<rect x="199.7" y="13.6" width="148.3" height="212.4" fill="#fff" stroke="#8a8a8a" stroke-width="1"/>
<g clip-path="url(#ck)">
<rect x="199.7" y="13.6" width="148.3" height="212.4" fill="#1F6E00"/><filter id="vg1" x="200" y="14" width="148" height="212" filterUnits="userSpaceOnUse" color-interpolation-filters="sRGB"><feGaussianBlur in="SourceGraphic" stdDeviation="2.4" result="m"/><feTurbulence type="fractalNoise" baseFrequency="0.30" numOctaves="2" seed="7" result="n0"/><feColorMatrix in="n0" type="matrix" values="1 0 0 0 0 0 1 0 0 0 0 0 1 0 0 0 0 0 0 1" result="n"/><feComposite in="n" in2="m" operator="arithmetic" k1="0" k2="1" k3="0.40" k4="0" result="c"/><feColorMatrix in="c" type="matrix" values="0 0 0 0 0.46  0 0 0 0 0.67  0 0 0 0 0.05  9.0 0 0 0 -6.50"/></filter><filter id="vg2" x="200" y="14" width="148" height="212" filterUnits="userSpaceOnUse" color-interpolation-filters="sRGB"><feGaussianBlur in="SourceGraphic" stdDeviation="1.8" result="m"/><feTurbulence type="fractalNoise" baseFrequency="0.38" numOctaves="2" seed="23" result="n0"/><feColorMatrix in="n0" type="matrix" values="1 0 0 0 0 0 1 0 0 0 0 0 1 0 0 0 0 0 0 1" result="n"/><feComposite in="n" in2="m" operator="arithmetic" k1="0" k2="1" k3="0.40" k4="0" result="c"/><feColorMatrix in="c" type="matrix" values="0 0 0 0 0.90  0 0 0 0 0.93  0 0 0 0 0.05  9.0 0 0 0 -6.50"/></filter><filter id="vg0" x="200" y="14" width="148" height="212" filterUnits="userSpaceOnUse" color-interpolation-filters="sRGB"><feGaussianBlur in="SourceGraphic" stdDeviation="2.0" result="m"/><feTurbulence type="fractalNoise" baseFrequency="0.33" numOctaves="2" seed="41" result="n0"/><feColorMatrix in="n0" type="matrix" values="1 0 0 0 0 0 1 0 0 0 0 0 1 0 0 0 0 0 0 1" result="n"/><feComposite in="n" in2="m" operator="arithmetic" k1="0" k2="1" k3="0.20" k4="0" result="c"/><feColorMatrix in="c" type="matrix" values="0 0 0 0 0.22  0 0 0 0 0.52  0 0 0 0 0.03  8.0 0 0 0 -4.50"/></filter><g filter="url(#vg0)" opacity="0.55"><rect x="200" y="14" width="148" height="212" fill="#fff" opacity="0.2"/></g><g filter="url(#vg1)"><rect x="248" y="14" width="100" height="118" fill="#fff" opacity="0.3"/><rect x="200" y="14" width="48" height="118" fill="#fff" opacity="0.1"/><rect x="200" y="132" width="148" height="30" fill="#fff" opacity="0.16"/><path d="M297.0,51.0C296.1,51.7 293.8,53.5 292.0,55.0C290.2,56.5 288.8,57.5 287.0,59.0C285.2,60.5 283.6,61.4 282.0,63.0C280.4,64.7 279.6,66.2 278.0,68.0C276.4,69.8 275.0,71.3 273.0,73.0C271.0,74.7 269.2,75.6 267.0,77.0C264.8,78.4 263.0,79.2 261.0,80.5C259.0,81.8 257.6,82.7 256.0,84.0C254.3,85.3 252.7,86.9 252.0,87.5" fill="none" stroke="#fff" stroke-width="7.00" stroke-linecap="round" stroke-linejoin="round" /><path d="M290.0,100.0C289.4,100.9 288.5,103.0 287.0,105.0C285.5,107.0 283.8,108.6 282.0,111.0C280.2,113.4 278.6,115.6 277.0,118.0C275.4,120.4 274.3,121.8 273.0,124.0C271.7,126.2 270.9,127.6 270.0,130.0C269.1,132.4 268.4,135.7 268.0,137.0" fill="none" stroke="#fff" stroke-width="7.00" stroke-linecap="round" stroke-linejoin="round" /><path d="M290.0,100.0C289.8,98.7 288.7,95.6 289.0,93.0C289.3,90.4 290.7,87.7 291.5,86.0C292.3,84.3 293.1,84.4 293.5,84.0" fill="none" stroke="#fff" stroke-width="3.20" stroke-linecap="round" stroke-linejoin="round" opacity="0.7"/><path d="M290.0,100.0C291.3,98.3 294.6,93.8 297.0,91.0C299.4,88.2 301.2,86.8 303.0,85.0C304.8,83.2 306.3,81.7 307.0,81.0" fill="none" stroke="#fff" stroke-width="3.20" stroke-linecap="round" stroke-linejoin="round" opacity="0.7"/><path d="M275.0,25.0C275.7,26.6 277.7,30.9 279.0,34.0C280.3,37.1 281.1,39.2 282.0,42.0C282.9,44.8 283.1,46.6 284.0,49.0C284.9,51.4 286.4,53.9 287.0,55.0" fill="none" stroke="#fff" stroke-width="3.20" stroke-linecap="round" stroke-linejoin="round" opacity="0.7"/><path d="M303.0,30.0C302.4,31.5 300.9,35.2 300.0,38.0C299.1,40.8 298.9,42.8 298.0,45.0C297.1,47.2 295.6,49.1 295.0,50.0" fill="none" stroke="#fff" stroke-width="3.20" stroke-linecap="round" stroke-linejoin="round" opacity="0.7"/><path d="M288.0,32.0C287.4,33.5 285.7,37.4 285.0,40.0C284.3,42.6 284.2,44.9 284.0,46.0" fill="none" stroke="#fff" stroke-width="3.20" stroke-linecap="round" stroke-linejoin="round" opacity="0.7"/><path d="M252.0,49.0C252.6,50.3 253.9,53.2 255.0,56.0C256.1,58.8 257.1,61.1 258.0,64.0C258.9,66.9 259.4,69.4 260.0,72.0C260.6,74.6 260.8,76.9 261.0,78.0" fill="none" stroke="#fff" stroke-width="3.20" stroke-linecap="round" stroke-linejoin="round" opacity="0.7"/><path d="M227.0,56.0C228.5,56.7 232.2,58.7 235.0,60.0C237.8,61.3 239.8,61.7 242.0,63.0C244.2,64.3 245.2,65.3 247.0,67.0C248.8,68.7 250.5,70.3 252.0,72.0C253.5,73.7 254.4,75.3 255.0,76.0" fill="none" stroke="#fff" stroke-width="3.20" stroke-linecap="round" stroke-linejoin="round" opacity="0.7"/><path d="M315.0,78.0C314.3,79.5 312.1,83.1 311.0,86.0C309.9,88.9 309.4,92.5 309.0,94.0" fill="none" stroke="#fff" stroke-width="3.20" stroke-linecap="round" stroke-linejoin="round" opacity="0.7"/><path d="M262.0,120.0C262.7,121.1 264.9,123.8 266.0,126.0C267.1,128.2 267.6,130.9 268.0,132.0" fill="none" stroke="#fff" stroke-width="3.20" stroke-linecap="round" stroke-linejoin="round" opacity="0.7"/><path d="M258.0,128.0C258.9,128.9 261.4,131.5 263.0,133.0C264.6,134.5 266.3,135.4 267.0,136.0" fill="none" stroke="#fff" stroke-width="3.20" stroke-linecap="round" stroke-linejoin="round" opacity="0.7"/><path d="M268.0,98.0C268.7,99.1 270.2,101.8 272.0,104.0C273.8,106.2 276.9,108.9 278.0,110.0" fill="none" stroke="#fff" stroke-width="3.20" stroke-linecap="round" stroke-linejoin="round" opacity="0.7"/><path d="M242.0,50.0C242.7,51.1 244.5,53.8 246.0,56.0C247.5,58.2 249.3,60.9 250.0,62.0" fill="none" stroke="#fff" stroke-width="3.20" stroke-linecap="round" stroke-linejoin="round" opacity="0.7"/><path d="M265.0,35.0C265.6,36.6 266.7,40.9 268.0,44.0C269.3,47.1 270.4,49.4 272.0,52.0C273.6,54.6 276.1,56.9 277.0,58.0" fill="none" stroke="#fff" stroke-width="3.20" stroke-linecap="round" stroke-linejoin="round" opacity="0.7"/><path d="M299.0,139.0C299.2,140.3 299.1,143.6 300.0,146.0C300.9,148.4 302.4,150.3 304.0,152.0C305.6,153.7 308.1,154.4 309.0,155.0" fill="none" stroke="#fff" stroke-width="3.20" stroke-linecap="round" stroke-linejoin="round" opacity="0.7"/><path d="M306.0,158.0C306.7,159.1 308.7,162.5 310.0,164.0C311.3,165.5 312.4,165.6 313.0,166.0" fill="none" stroke="#fff" stroke-width="3.20" stroke-linecap="round" stroke-linejoin="round" opacity="0.7"/><path d="M290.0,120.0C290.4,121.8 290.9,126.7 292.0,130.0C293.1,133.3 295.3,136.5 296.0,138.0" fill="none" stroke="#fff" stroke-width="3.20" stroke-linecap="round" stroke-linejoin="round" opacity="0.7"/><path d="M284.0,150.0C284.7,151.8 286.9,156.3 288.0,160.0C289.1,163.7 289.6,168.2 290.0,170.0" fill="none" stroke="#fff" stroke-width="3.20" stroke-linecap="round" stroke-linejoin="round" opacity="0.7"/><path d="M258.0,118.0C260.0,115.4 263.1,114.0 266.0,114.0C268.9,114.0 272.9,115.1 274.0,118.0C275.1,120.9 273.1,126.3 272.0,130.0C270.9,133.7 270.2,136.7 268.0,138.0C265.8,139.3 262.4,138.8 260.0,137.0C257.6,135.2 255.4,131.5 255.0,128.0C254.6,124.5 256.0,120.6 258.0,118.0Z" fill="#fff" opacity="0.6"/><path d="M262.0,96.0C263.5,94.2 267.2,93.3 270.0,94.0C272.8,94.7 275.9,97.4 277.0,100.0C278.1,102.6 277.6,106.2 276.0,108.0C274.4,109.8 270.6,110.7 268.0,110.0C265.4,109.3 263.1,106.6 262.0,104.0C260.9,101.4 260.5,97.8 262.0,96.0Z" fill="#fff" opacity="0.45"/></g><g filter="url(#vg2)"><path d="M297.0,51.0C296.1,51.7 293.8,53.5 292.0,55.0C290.2,56.5 288.8,57.5 287.0,59.0C285.2,60.5 283.6,61.4 282.0,63.0C280.4,64.7 279.6,66.2 278.0,68.0C276.4,69.8 275.0,71.3 273.0,73.0C271.0,74.7 269.2,75.6 267.0,77.0C264.8,78.4 263.0,79.2 261.0,80.5C259.0,81.8 257.6,82.7 256.0,84.0C254.3,85.3 252.7,86.9 252.0,87.5" fill="none" stroke="#fff" stroke-width="4.50" stroke-linecap="round" stroke-linejoin="round" /><path d="M290.0,100.0C289.4,100.9 288.5,103.0 287.0,105.0C285.5,107.0 283.8,108.6 282.0,111.0C280.2,113.4 278.6,115.6 277.0,118.0C275.4,120.4 274.3,121.8 273.0,124.0C271.7,126.2 270.9,127.6 270.0,130.0C269.1,132.4 268.4,135.7 268.0,137.0" fill="none" stroke="#fff" stroke-width="4.50" stroke-linecap="round" stroke-linejoin="round" /><path d="M290.0,100.0C289.8,98.7 288.7,95.6 289.0,93.0C289.3,90.4 290.7,87.7 291.5,86.0C292.3,84.3 293.1,84.4 293.5,84.0" fill="none" stroke="#fff" stroke-width="1.80" stroke-linecap="round" stroke-linejoin="round" opacity="0.7"/><path d="M290.0,100.0C291.3,98.3 294.6,93.8 297.0,91.0C299.4,88.2 301.2,86.8 303.0,85.0C304.8,83.2 306.3,81.7 307.0,81.0" fill="none" stroke="#fff" stroke-width="1.80" stroke-linecap="round" stroke-linejoin="round" opacity="0.7"/><path d="M275.0,25.0C275.7,26.6 277.7,30.9 279.0,34.0C280.3,37.1 281.1,39.2 282.0,42.0C282.9,44.8 283.1,46.6 284.0,49.0C284.9,51.4 286.4,53.9 287.0,55.0" fill="none" stroke="#fff" stroke-width="1.80" stroke-linecap="round" stroke-linejoin="round" opacity="0.7"/><path d="M303.0,30.0C302.4,31.5 300.9,35.2 300.0,38.0C299.1,40.8 298.9,42.8 298.0,45.0C297.1,47.2 295.6,49.1 295.0,50.0" fill="none" stroke="#fff" stroke-width="1.80" stroke-linecap="round" stroke-linejoin="round" opacity="0.7"/><path d="M288.0,32.0C287.4,33.5 285.7,37.4 285.0,40.0C284.3,42.6 284.2,44.9 284.0,46.0" fill="none" stroke="#fff" stroke-width="1.80" stroke-linecap="round" stroke-linejoin="round" opacity="0.7"/><path d="M252.0,49.0C252.6,50.3 253.9,53.2 255.0,56.0C256.1,58.8 257.1,61.1 258.0,64.0C258.9,66.9 259.4,69.4 260.0,72.0C260.6,74.6 260.8,76.9 261.0,78.0" fill="none" stroke="#fff" stroke-width="1.80" stroke-linecap="round" stroke-linejoin="round" opacity="0.7"/><path d="M227.0,56.0C228.5,56.7 232.2,58.7 235.0,60.0C237.8,61.3 239.8,61.7 242.0,63.0C244.2,64.3 245.2,65.3 247.0,67.0C248.8,68.7 250.5,70.3 252.0,72.0C253.5,73.7 254.4,75.3 255.0,76.0" fill="none" stroke="#fff" stroke-width="1.80" stroke-linecap="round" stroke-linejoin="round" opacity="0.7"/><path d="M315.0,78.0C314.3,79.5 312.1,83.1 311.0,86.0C309.9,88.9 309.4,92.5 309.0,94.0" fill="none" stroke="#fff" stroke-width="1.80" stroke-linecap="round" stroke-linejoin="round" opacity="0.7"/><path d="M262.0,120.0C262.7,121.1 264.9,123.8 266.0,126.0C267.1,128.2 267.6,130.9 268.0,132.0" fill="none" stroke="#fff" stroke-width="1.80" stroke-linecap="round" stroke-linejoin="round" opacity="0.7"/><path d="M258.0,128.0C258.9,128.9 261.4,131.5 263.0,133.0C264.6,134.5 266.3,135.4 267.0,136.0" fill="none" stroke="#fff" stroke-width="1.80" stroke-linecap="round" stroke-linejoin="round" opacity="0.7"/><path d="M268.0,98.0C268.7,99.1 270.2,101.8 272.0,104.0C273.8,106.2 276.9,108.9 278.0,110.0" fill="none" stroke="#fff" stroke-width="1.80" stroke-linecap="round" stroke-linejoin="round" opacity="0.7"/><path d="M242.0,50.0C242.7,51.1 244.5,53.8 246.0,56.0C247.5,58.2 249.3,60.9 250.0,62.0" fill="none" stroke="#fff" stroke-width="1.80" stroke-linecap="round" stroke-linejoin="round" opacity="0.7"/><path d="M265.0,35.0C265.6,36.6 266.7,40.9 268.0,44.0C269.3,47.1 270.4,49.4 272.0,52.0C273.6,54.6 276.1,56.9 277.0,58.0" fill="none" stroke="#fff" stroke-width="1.80" stroke-linecap="round" stroke-linejoin="round" opacity="0.7"/><path d="M258.0,118.0C260.0,115.4 263.1,114.0 266.0,114.0C268.9,114.0 272.9,115.1 274.0,118.0C275.1,120.9 273.1,126.3 272.0,130.0C270.9,133.7 270.2,136.7 268.0,138.0C265.8,139.3 262.4,138.8 260.0,137.0C257.6,135.2 255.4,131.5 255.0,128.0C254.6,124.5 256.0,120.6 258.0,118.0Z" fill="#fff" opacity="0.5"/></g><filter id="rag" x="200" y="14" width="148" height="212" filterUnits="userSpaceOnUse" color-interpolation-filters="sRGB"><feTurbulence type="fractalNoise" baseFrequency="0.3" numOctaves="2" seed="11" result="t"/><feDisplacementMap in="SourceGraphic" in2="t" scale="3.2" xChannelSelector="R" yChannelSelector="G"/></filter><g filter="url(#rag)"><path d="M297.0,51.0C296.1,51.7 293.8,53.5 292.0,55.0C290.2,56.5 288.8,57.5 287.0,59.0C285.2,60.5 283.6,61.4 282.0,63.0C280.4,64.7 279.6,66.2 278.0,68.0C276.4,69.8 275.0,71.3 273.0,73.0C271.0,74.7 269.2,75.6 267.0,77.0C264.8,78.4 263.0,79.2 261.0,80.5C259.0,81.8 257.6,82.7 256.0,84.0C254.3,85.3 252.7,86.9 252.0,87.5" fill="none" stroke="#F2F200" stroke-width="2.00" stroke-linecap="round" stroke-linejoin="round" /><path d="M290.0,100.0C289.4,100.9 288.5,103.0 287.0,105.0C285.5,107.0 283.8,108.6 282.0,111.0C280.2,113.4 278.6,115.6 277.0,118.0C275.4,120.4 274.3,121.8 273.0,124.0C271.7,126.2 270.9,127.6 270.0,130.0C269.1,132.4 268.4,135.7 268.0,137.0" fill="none" stroke="#F2F200" stroke-width="2.00" stroke-linecap="round" stroke-linejoin="round" /><path d="M291.0,56.0C290.2,56.7 288.1,58.6 286.5,60.0C284.9,61.4 283.8,62.2 282.5,63.5C281.2,64.8 280.1,66.4 279.5,67.0" fill="none" stroke="#F2F200" stroke-width="4.00" stroke-linecap="round" stroke-linejoin="round" /><path d="M268.0,132.0C268.4,130.9 269.1,128.0 270.0,126.0C270.9,124.0 272.4,121.9 273.0,121.0" fill="none" stroke="#F2F200" stroke-width="2.60" stroke-linecap="round" stroke-linejoin="round" /><path d="M290.0,100.0C289.8,98.7 288.7,95.6 289.0,93.0C289.3,90.4 290.7,87.7 291.5,86.0C292.3,84.3 293.1,84.4 293.5,84.0" fill="none" stroke="#E0EC00" stroke-width="0.90" stroke-linecap="round" stroke-linejoin="round" opacity="0.85"/><path d="M290.0,100.0C291.3,98.3 294.6,93.8 297.0,91.0C299.4,88.2 301.2,86.8 303.0,85.0C304.8,83.2 306.3,81.7 307.0,81.0" fill="none" stroke="#E0EC00" stroke-width="0.90" stroke-linecap="round" stroke-linejoin="round" opacity="0.85"/><path d="M275.0,25.0C275.7,26.6 277.7,30.9 279.0,34.0C280.3,37.1 281.1,39.2 282.0,42.0C282.9,44.8 283.1,46.6 284.0,49.0C284.9,51.4 286.4,53.9 287.0,55.0" fill="none" stroke="#E0EC00" stroke-width="0.90" stroke-linecap="round" stroke-linejoin="round" opacity="0.85"/><path d="M303.0,30.0C302.4,31.5 300.9,35.2 300.0,38.0C299.1,40.8 298.9,42.8 298.0,45.0C297.1,47.2 295.6,49.1 295.0,50.0" fill="none" stroke="#E0EC00" stroke-width="0.90" stroke-linecap="round" stroke-linejoin="round" opacity="0.85"/><path d="M288.0,32.0C287.4,33.5 285.7,37.4 285.0,40.0C284.3,42.6 284.2,44.9 284.0,46.0" fill="none" stroke="#E0EC00" stroke-width="0.90" stroke-linecap="round" stroke-linejoin="round" opacity="0.85"/><path d="M252.0,49.0C252.6,50.3 253.9,53.2 255.0,56.0C256.1,58.8 257.1,61.1 258.0,64.0C258.9,66.9 259.4,69.4 260.0,72.0C260.6,74.6 260.8,76.9 261.0,78.0" fill="none" stroke="#E0EC00" stroke-width="0.90" stroke-linecap="round" stroke-linejoin="round" opacity="0.85"/><path d="M227.0,56.0C228.5,56.7 232.2,58.7 235.0,60.0C237.8,61.3 239.8,61.7 242.0,63.0C244.2,64.3 245.2,65.3 247.0,67.0C248.8,68.7 250.5,70.3 252.0,72.0C253.5,73.7 254.4,75.3 255.0,76.0" fill="none" stroke="#E0EC00" stroke-width="0.90" stroke-linecap="round" stroke-linejoin="round" opacity="0.85"/><path d="M315.0,78.0C314.3,79.5 312.1,83.1 311.0,86.0C309.9,88.9 309.4,92.5 309.0,94.0" fill="none" stroke="#E0EC00" stroke-width="0.90" stroke-linecap="round" stroke-linejoin="round" opacity="0.85"/><path d="M262.0,120.0C262.7,121.1 264.9,123.8 266.0,126.0C267.1,128.2 267.6,130.9 268.0,132.0" fill="none" stroke="#E0EC00" stroke-width="0.90" stroke-linecap="round" stroke-linejoin="round" opacity="0.85"/><path d="M258.0,128.0C258.9,128.9 261.4,131.5 263.0,133.0C264.6,134.5 266.3,135.4 267.0,136.0" fill="none" stroke="#E0EC00" stroke-width="0.90" stroke-linecap="round" stroke-linejoin="round" opacity="0.85"/><path d="M268.0,98.0C268.7,99.1 270.2,101.8 272.0,104.0C273.8,106.2 276.9,108.9 278.0,110.0" fill="none" stroke="#E0EC00" stroke-width="0.90" stroke-linecap="round" stroke-linejoin="round" opacity="0.85"/><path d="M242.0,50.0C242.7,51.1 244.5,53.8 246.0,56.0C247.5,58.2 249.3,60.9 250.0,62.0" fill="none" stroke="#E0EC00" stroke-width="0.90" stroke-linecap="round" stroke-linejoin="round" opacity="0.85"/><path d="M265.0,35.0C265.6,36.6 266.7,40.9 268.0,44.0C269.3,47.1 270.4,49.4 272.0,52.0C273.6,54.6 276.1,56.9 277.0,58.0" fill="none" stroke="#E0EC00" stroke-width="0.90" stroke-linecap="round" stroke-linejoin="round" opacity="0.85"/></g><path d="M280.5,62.5C281.1,62.0 282.6,61.0 284.0,60.0C285.4,59.0 287.3,57.5 288.0,57.0" fill="none" stroke="#FFA000" stroke-width="1.30" stroke-linecap="round" stroke-linejoin="round" /><path d="M299.0,139.0C299.2,140.3 299.1,143.6 300.0,146.0C300.9,148.4 302.4,150.3 304.0,152.0C305.6,153.7 308.1,154.4 309.0,155.0" fill="none" stroke="#FFA000" stroke-width="1.00" stroke-linecap="round" stroke-linejoin="round" /><path d="M306.0,158.0C306.7,159.1 308.7,162.5 310.0,164.0C311.3,165.5 312.4,165.6 313.0,166.0" fill="none" stroke="#FFA000" stroke-width="0.90" stroke-linecap="round" stroke-linejoin="round" /><path d="M294.0,84.0C294.9,84.1 297.9,84.8 299.0,84.5C300.1,84.2 299.9,83.3 300.0,82.5C300.1,81.7 299.6,80.5 299.5,80.0" fill="none" stroke="#FF2A00" stroke-width="1.00" stroke-linecap="round" stroke-linejoin="round" /><ellipse cx="286.0" cy="46.5" rx="0.9" ry="0.9" fill="#FF2A00" transform="rotate(0 286.0 46.5)"/><polyline points="322.0,139.0 321.8,141.5 321.5,144.0 320.5,146.5 319.0,148.5 317.0,150.5 314.5,152.0 311.5,153.0 311.5,156.0 312.5,158.5 313.5,161.0 314.5,163.5 315.0,166.0 314.5,168.5 313.0,170.0" fill="none" stroke="#FF2A00" stroke-width="2.0" stroke-linejoin="round" stroke-linecap="round"/><ellipse cx="337.3" cy="137.2" rx="1.3" ry="1.0" fill="#FF2A00" transform="rotate(0 337.3 137.2)"/>
</g>
<text x="249.91" y="10.40" font-size="5.30" font-weight="bold" text-anchor="middle" fill="#111" stroke="#111" stroke-width="0.18">126°15'0&quot;E</text><line x1="249.91" y1="12.40" x2="249.91" y2="13.60" stroke="#777" stroke-width="0.6"/><text x="302.89" y="10.40" font-size="5.30" font-weight="bold" text-anchor="middle" fill="#111" stroke="#111" stroke-width="0.18">126°30'0&quot;E</text><line x1="302.89" y1="12.40" x2="302.89" y2="13.60" stroke="#777" stroke-width="0.6"/><text x="243.54" y="232.80" font-size="5.30" font-weight="bold" text-anchor="middle" fill="#111" stroke="#111" stroke-width="0.18">126°15'0&quot;E</text><line x1="243.54" y1="226.00" x2="243.54" y2="227.20" stroke="#777" stroke-width="0.6"/><text x="296.51" y="232.80" font-size="5.30" font-weight="bold" text-anchor="middle" fill="#111" stroke="#111" stroke-width="0.18">126°30'0&quot;E</text><line x1="296.51" y1="226.00" x2="296.51" y2="227.20" stroke="#777" stroke-width="0.6"/><text transform="translate(197.00,40.11) rotate(-90)" font-size="5.30" font-weight="bold" text-anchor="middle" fill="#111" stroke="#111" stroke-width="0.18">42°0'0&quot;N</text><line x1="198.50" y1="40.11" x2="199.70" y2="40.11" stroke="#777" stroke-width="0.6"/><text transform="translate(197.00,111.09) rotate(-90)" font-size="5.30" font-weight="bold" text-anchor="middle" fill="#111" stroke="#111" stroke-width="0.18">41°45'0&quot;N</text><line x1="198.50" y1="111.09" x2="199.70" y2="111.09" stroke="#777" stroke-width="0.6"/><text transform="translate(197.00,181.99) rotate(-90)" font-size="5.30" font-weight="bold" text-anchor="middle" fill="#111" stroke="#111" stroke-width="0.18">41°30'0&quot;N</text><line x1="198.50" y1="181.99" x2="199.70" y2="181.99" stroke="#777" stroke-width="0.6"/><text transform="translate(354.50,44.25) rotate(-90)" font-size="5.30" font-weight="bold" text-anchor="middle" fill="#111" stroke="#111" stroke-width="0.18">42°0'0&quot;N</text><line x1="348.00" y1="44.25" x2="349.20" y2="44.25" stroke="#777" stroke-width="0.6"/><text transform="translate(354.50,115.25) rotate(-90)" font-size="5.30" font-weight="bold" text-anchor="middle" fill="#111" stroke="#111" stroke-width="0.18">41°45'0&quot;N</text><line x1="348.00" y1="115.25" x2="349.20" y2="115.25" stroke="#777" stroke-width="0.6"/><text transform="translate(354.50,186.26) rotate(-90)" font-size="5.30" font-weight="bold" text-anchor="middle" fill="#111" stroke="#111" stroke-width="0.18">41°30'0&quot;N</text><line x1="348.00" y1="186.26" x2="349.20" y2="186.26" stroke="#777" stroke-width="0.6"/>
<g transform="translate(333.91,29.57) scale(1.000)"><circle r="4.8" fill="#fff" stroke="#1a1a1a" stroke-width="1.05"/><circle r="3.1" fill="#f3f9fb" stroke="#777" stroke-width="0.3"/><path d="M0,0 L-0.9,-0.9 L-4.3,-4.3 L-0.9,0.9 Z M0,0 L0.9,-0.9 L4.3,-4.3 L0.9,0.9Z M0,0 L0.9,0.9 L4.3,4.3 L-0.9,0.9Z M0,0 L-0.9,0.9 L-4.3,4.3 L-0.9,-0.9Z" fill="#555" opacity="0.28"/><path d="M0,-8.4 L1.4,-1.4 L8,0 L1.4,1.4 L0,8.8 L-1.4,1.4 L-8,0 L-1.4,-1.4 Z" fill="#fff" stroke="#222" stroke-width="0.45"/><path d="M0,-8.4 L0,0 L-1.4,-1.4 Z M8,0 L0,0 L1.4,-1.4 Z M0,8.8 L0,0 L1.4,1.4Z M-8,0 L0,0 L-1.4,1.4Z" fill="#222"/><text x="0.0" y="-10.0" font-size="3" font-weight="bold" text-anchor="middle" fill="#111">N</text><text x="0.0" y="12.9" font-size="3" font-weight="bold" text-anchor="middle" fill="#111">S</text><text x="-11.3" y="1.0" font-size="3" font-weight="bold" text-anchor="middle" fill="#111">W</text><text x="10.7" y="1.0" font-size="3" font-weight="bold" text-anchor="middle" fill="#111">E</text></g>
<rect x="309.74" y="214.01" width="25.43" height="2.10" fill="#fff" stroke="#000" stroke-width="0.4"/><rect x="309.74" y="214.01" width="8.48" height="2.10" fill="#000"/><rect x="326.69" y="214.01" width="8.48" height="2.10" fill="#000"/><text x="309.74" y="211.46" font-size="4.90" text-anchor="middle" fill="#111">0</text><text x="322.46" y="211.46" font-size="4.90" text-anchor="middle" fill="#111">5</text><text x="335.17" y="211.46" font-size="4.90" text-anchor="middle" fill="#111">10</text><text x="336.47" y="216.36" font-size="4.30" fill="#111">KM</text>
<text x="204.0" y="177.2" font-size="7.2" font-weight="bold" fill="#111" stroke="#111" stroke-width="0.15">Vegetation cover</text><rect x="204.0" y="183.00" width="7.6" height="3.2" fill="#1F6B00" stroke="#999" stroke-width="0.25"/><text x="214.4" y="186.66" font-size="5.7" font-weight="bold" fill="#111" stroke="#111" stroke-width="0.12">High coverage</text><rect x="204.0" y="190.60" width="7.6" height="3.2" fill="#6FA80F" stroke="#999" stroke-width="0.25"/><text x="214.4" y="194.26" font-size="5.7" font-weight="bold" fill="#111" stroke="#111" stroke-width="0.12">Medium coverage</text><rect x="204.0" y="198.60" width="7.6" height="3.2" fill="#FFFF00" stroke="#999" stroke-width="0.25"/><text x="214.4" y="202.26" font-size="5.7" font-weight="bold" fill="#111" stroke="#111" stroke-width="0.12">Low to medium coverage</text><rect x="204.0" y="206.40" width="7.6" height="3.2" fill="#FFA000" stroke="#999" stroke-width="0.25"/><text x="214.4" y="210.06" font-size="5.7" font-weight="bold" fill="#111" stroke="#111" stroke-width="0.12">Low coverage</text><rect x="204.0" y="214.00" width="7.6" height="3.2" fill="#FF1E00" stroke="#999" stroke-width="0.25"/><text x="214.4" y="217.66" font-size="5.7" font-weight="bold" fill="#111" stroke="#111" stroke-width="0.12">No coverage</text>
<text x="214.8" y="30.6" font-size="13.3" text-anchor="middle" fill="#111" stroke="#111" stroke-width="0.2">(k)</text>
</g>
<g id="panel-l">
<rect x="388.6" y="13.6" width="148.8" height="212.4" fill="#fff" stroke="#8a8a8a" stroke-width="1"/>
<g clip-path="url(#cl)">
<rect x="388.6" y="13.6" width="148.8" height="212.4" fill="#A87008"/><path d="M459.5,30.0C459.5,29.0 460.3,28.1 461.5,27.5C462.7,26.9 464.4,26.6 466.0,26.5C467.6,26.4 469.2,26.4 470.5,27.0C471.8,27.6 472.7,28.5 473.0,29.5C473.3,30.5 472.8,31.6 472.0,32.5C471.2,33.4 469.8,34.0 468.5,34.5C467.2,35.0 466.3,35.3 465.0,35.0C463.7,34.7 462.5,33.9 461.5,33.0C460.5,32.1 459.5,31.0 459.5,30.0Z" fill="#85DFF7" /><path d="M479.5,27.5C479.8,26.6 481.7,26.0 483.0,26.0C484.3,26.0 485.3,26.6 486.5,27.5C487.7,28.4 488.6,29.6 489.5,31.0C490.4,32.4 490.9,33.6 491.5,35.0C492.1,36.4 492.8,38.1 492.5,38.5C492.2,38.9 491.0,37.5 490.0,37.0C489.0,36.5 488.1,36.6 487.0,36.0C485.9,35.4 485.0,34.4 484.0,33.5C483.0,32.6 482.3,32.1 481.5,31.0C480.7,29.9 479.2,28.4 479.5,27.5Z" fill="#85DFF7" /><path d="M475.0,37.5C475.3,36.4 476.4,35.3 477.5,35.0C478.6,34.7 479.9,35.1 481.0,36.0C482.1,36.9 482.9,38.5 483.5,40.0C484.1,41.5 484.5,43.1 484.0,44.0C483.5,44.9 482.0,45.1 481.0,45.0C480.0,44.9 479.4,44.2 478.5,43.5C477.6,42.8 476.6,42.1 476.0,41.0C475.4,39.9 474.7,38.6 475.0,37.5Z" fill="#85DFF7" /><path d="M451.0,34.0C451.5,33.1 453.2,32.6 454.0,33.0C454.8,33.4 454.8,35.1 455.5,36.0C456.2,36.9 457.0,37.3 458.0,38.0C459.0,38.7 460.4,39.1 461.0,40.0C461.6,40.9 461.9,42.1 461.5,43.0C461.1,43.9 460.0,44.4 459.0,45.0C458.0,45.6 457.2,46.0 456.0,46.5C454.8,47.0 453.6,47.4 452.5,47.5C451.4,47.6 450.2,47.6 450.0,47.0C449.8,46.4 451.0,45.1 451.5,44.0C452.0,42.9 452.5,42.1 452.5,41.0C452.5,39.9 451.8,39.3 451.5,38.0C451.2,36.7 450.5,34.9 451.0,34.0Z" fill="#85DFF7" /><path d="M467.5,41.5C468.2,40.8 469.7,40.0 471.0,40.0C472.3,40.0 473.6,40.6 474.5,41.5C475.4,42.4 475.9,43.6 476.0,45.0C476.1,46.4 475.5,47.5 475.0,49.0C474.5,50.5 474.2,52.0 473.5,53.0C472.8,54.0 471.7,54.9 471.0,54.5C470.3,54.1 470.1,52.4 469.5,51.0C468.9,49.6 468.5,48.3 468.0,47.0C467.5,45.7 467.1,45.0 467.0,44.0C466.9,43.0 466.8,42.2 467.5,41.5Z" fill="#85DFF7" /><path d="M425.5,50.0C425.7,49.0 426.8,48.2 428.0,47.5C429.2,46.8 430.6,45.9 432.0,46.0C433.4,46.1 434.2,47.0 435.5,48.0C436.8,49.0 437.6,50.2 439.0,51.5C440.4,52.8 442.4,54.0 443.0,55.0C443.6,56.0 442.8,56.8 442.0,57.0C441.2,57.2 439.4,55.6 438.5,56.0C437.6,56.4 437.1,57.5 437.0,59.0C436.9,60.5 437.5,62.7 438.0,64.0C438.5,65.3 439.7,65.3 439.5,66.0C439.3,66.7 437.9,67.8 437.0,68.0C436.1,68.2 435.1,67.9 434.5,67.0C433.9,66.1 434.1,64.3 433.5,63.0C432.9,61.7 432.5,60.5 431.5,60.0C430.5,59.5 429.2,60.2 428.0,60.0C426.8,59.8 425.5,59.7 425.0,59.0C424.5,58.3 425.1,57.1 425.5,56.0C425.9,54.9 427.0,54.1 427.0,53.0C427.0,51.9 425.3,51.0 425.5,50.0Z" fill="#85DFF7" /><ellipse cx="452.0" cy="72.0" rx="2.2" ry="1.5" fill="#85DFF7" transform="rotate(0 452.0 72.0)"/><ellipse cx="453.0" cy="58.0" rx="1.3" ry="1.5" fill="#85DFF7" transform="rotate(0 453.0 58.0)"/><ellipse cx="456.0" cy="55.0" rx="1.2" ry="1.2" fill="#85DFF7" transform="rotate(0 456.0 55.0)"/><path d="M457.5,51.5C458.1,50.6 460.1,49.7 461.5,50.0C462.9,50.3 464.2,51.7 465.0,53.0C465.8,54.3 466.3,55.9 466.0,57.0C465.7,58.1 464.6,58.9 463.5,59.0C462.4,59.1 461.0,58.2 460.0,57.5C459.0,56.8 458.5,56.1 458.0,55.0C457.5,53.9 456.9,52.4 457.5,51.5Z" fill="#85DFF7" /><ellipse cx="445.0" cy="67.0" rx="1.3" ry="1.8" fill="#85DFF7" transform="rotate(30 445.0 67.0)"/><path d="M432.0,83.0C432.4,82.0 433.5,80.4 435.0,80.0C436.5,79.6 438.9,80.1 440.0,81.0C441.1,81.9 441.6,84.0 441.0,85.0C440.4,86.0 438.5,86.5 437.0,86.6C435.5,86.7 433.9,86.1 433.0,85.4C432.1,84.7 431.6,84.0 432.0,83.0Z" fill="#85DFF7" /><ellipse cx="492.0" cy="47.0" rx="3.6" ry="4.0" fill="#85DFF7" transform="rotate(0 492.0 47.0)"/><path d="M476.0,69.5C476.9,68.8 478.7,68.4 480.0,68.5C481.3,68.6 482.3,69.0 483.0,70.0C483.7,71.0 483.4,73.6 484.0,74.0C484.6,74.4 484.9,72.5 486.0,72.0C487.1,71.5 488.4,71.1 490.0,71.0C491.6,70.9 493.2,71.2 495.0,71.5C496.8,71.8 498.7,71.9 500.0,72.5C501.3,73.1 502.2,74.3 502.0,75.0C501.8,75.7 500.3,76.1 499.0,76.5C497.7,76.9 496.3,76.7 495.0,77.0C493.7,77.3 493.1,77.5 492.0,78.0C490.9,78.5 490.3,79.4 489.0,80.0C487.7,80.6 486.3,80.9 485.0,81.5C483.7,82.1 482.9,82.6 482.0,83.5C481.1,84.4 480.8,85.4 480.0,86.5C479.2,87.6 478.4,88.9 477.5,89.5C476.6,90.1 475.4,90.5 475.0,90.0C474.6,89.5 475.7,87.6 475.5,86.5C475.3,85.4 474.5,85.0 474.0,84.0C473.5,83.0 473.1,82.1 473.0,81.0C472.9,79.9 473.0,78.9 473.5,78.0C474.0,77.1 475.2,77.0 475.5,76.0C475.8,75.0 474.9,73.7 475.0,72.5C475.1,71.3 475.1,70.2 476.0,69.5Z" fill="#85DFF7" /><path d="M483.5,59.0C484.4,57.9 487.1,58.7 488.0,60.0C488.9,61.3 488.7,64.1 488.5,66.0C488.3,67.9 487.8,69.6 487.0,70.5C486.2,71.4 484.7,71.8 484.0,71.0C483.3,70.2 483.1,68.2 483.0,66.0C482.9,63.8 482.6,60.1 483.5,59.0Z" fill="#85DFF7" /><path d="M473.0,94.0C474.1,94.2 474.7,96.5 476.0,97.0C477.3,97.5 478.5,97.4 480.0,97.0C481.5,96.6 482.8,96.1 484.0,95.0C485.2,93.9 485.6,92.3 486.5,91.0C487.4,89.7 488.0,88.6 489.0,88.0C490.0,87.4 490.9,87.2 492.0,87.5C493.1,87.8 494.4,88.6 495.0,89.5C495.6,90.4 495.9,91.9 495.5,92.5C495.1,93.1 493.7,93.3 493.0,93.0C492.3,92.7 492.1,91.2 491.5,91.0C490.9,90.8 490.2,91.2 489.5,92.0C488.8,92.8 488.0,94.0 487.5,95.5C487.0,97.0 487.1,98.4 487.0,100.0C486.9,101.6 487.4,102.2 487.0,104.0C486.6,105.8 486.1,108.7 485.0,110.0C483.9,111.3 481.7,112.1 481.0,111.0C480.3,109.9 481.6,105.8 481.0,104.0C480.4,102.2 479.3,101.9 478.0,101.0C476.7,100.1 475.5,99.9 474.0,99.0C472.5,98.1 470.2,96.9 470.0,96.0C469.8,95.1 471.9,93.8 473.0,94.0Z" fill="#85DFF7" /><path d="M452.0,95.0C452.7,93.7 453.2,92.5 455.0,92.0C456.8,91.5 459.6,91.6 462.0,92.0C464.4,92.4 466.5,92.7 468.0,94.0C469.5,95.3 469.3,97.3 470.0,99.0C470.7,100.7 471.3,101.3 472.0,103.0C472.7,104.7 474.0,106.2 474.0,108.0C474.0,109.8 473.1,111.3 472.0,113.0C470.9,114.7 469.5,116.6 468.0,117.0C466.5,117.4 465.3,116.3 464.0,115.0C462.7,113.7 462.3,111.7 461.0,110.0C459.7,108.3 458.5,107.3 457.0,106.0C455.5,104.7 454.1,104.3 453.0,103.0C451.9,101.7 451.2,100.5 451.0,99.0C450.8,97.5 451.3,96.3 452.0,95.0Z" fill="#85DFF7" /><path d="M473.5,111.5C474.1,110.9 475.6,110.4 477.0,110.0C478.4,109.6 479.5,109.4 481.0,109.5C482.5,109.6 483.5,110.1 485.0,110.5C486.5,110.9 487.4,111.2 489.0,111.5C490.6,111.8 492.4,111.5 494.0,112.0C495.6,112.5 496.5,113.3 498.0,114.0C499.5,114.7 500.5,115.5 502.0,116.0C503.5,116.5 505.0,116.4 506.0,117.0C507.0,117.6 507.4,118.6 507.5,119.5C507.6,120.4 507.3,121.5 506.5,122.0C505.7,122.5 504.4,122.5 503.0,122.5C501.6,122.5 500.3,122.5 499.0,122.0C497.7,121.5 497.3,120.8 496.0,120.0C494.7,119.2 493.5,118.1 492.0,117.5C490.5,116.9 489.5,116.8 488.0,116.5C486.5,116.2 485.5,116.2 484.0,116.0C482.5,115.8 481.5,115.7 480.0,115.5C478.5,115.3 477.1,115.4 476.0,115.0C474.9,114.6 474.5,114.1 474.0,113.5C473.5,112.9 472.9,112.1 473.5,111.5Z" fill="#85DFF7" /><path d="M482.0,100.0C483.0,98.0 486.5,98.0 487.5,100.0C488.5,102.0 488.5,109.0 487.5,111.0C486.5,113.0 483.0,113.0 482.0,111.0C481.0,109.0 481.0,102.0 482.0,100.0Z" fill="#85DFF7" /><path d="M498.0,122.0C498.1,123.1 498.7,126.2 498.5,128.0C498.3,129.8 497.8,130.5 497.0,132.0C496.2,133.5 495.5,134.8 494.0,136.0C492.5,137.2 490.8,138.0 489.0,138.5C487.2,139.0 485.8,138.7 484.0,138.5C482.2,138.3 480.6,137.4 479.0,137.5C477.4,137.6 476.3,138.3 475.0,139.0C473.7,139.7 472.6,141.0 472.0,141.5" fill="none" stroke="#85DFF7" stroke-width="4.60" stroke-linecap="round" stroke-linejoin="round" /><path d="M484.0,126.5C484.9,126.5 487.2,126.7 489.0,126.5C490.8,126.3 492.4,125.8 494.0,125.5C495.6,125.2 496.9,125.1 497.5,125.0" fill="none" stroke="#85DFF7" stroke-width="4.00" stroke-linecap="round" stroke-linejoin="round" /><path d="M447.0,133.0C447.7,131.7 449.4,130.4 451.0,130.0C452.6,129.6 455.3,130.1 456.0,131.0C456.7,131.9 456.1,133.7 455.0,135.0C453.9,136.3 451.4,137.6 450.0,138.0C448.6,138.4 447.9,137.9 447.4,137.0C446.8,136.1 446.3,134.3 447.0,133.0Z" fill="#85DFF7" /><ellipse cx="472.0" cy="134.0" rx="2.4" ry="2.2" fill="#85DFF7" transform="rotate(0 472.0 134.0)"/><path d="M478.0,157.0C479.1,156.3 481.1,155.3 482.0,156.0C482.9,156.7 483.4,159.0 483.0,161.0C482.6,163.0 481.1,165.0 480.0,167.0C478.9,169.0 478.3,170.3 477.0,172.0C475.7,173.7 474.5,174.7 473.0,176.0C471.5,177.3 470.3,178.6 469.0,179.0C467.7,179.4 466.0,178.9 466.0,178.0C466.0,177.1 467.7,175.5 469.0,174.0C470.3,172.5 471.9,171.7 473.0,170.0C474.1,168.3 474.4,166.8 475.0,165.0C475.6,163.2 475.4,161.5 476.0,160.0C476.6,158.5 476.9,157.7 478.0,157.0Z" fill="#85DFF7" /><ellipse cx="450.0" cy="115.0" rx="1.2" ry="1.2" fill="#85DFF7" transform="rotate(0 450.0 115.0)"/><ellipse cx="445.0" cy="120.0" rx="1.2" ry="1.2" fill="#85DFF7" transform="rotate(0 445.0 120.0)"/><path d="M482.2,136.8C481.1,137.4 478.2,138.4 476.3,140.0C474.4,141.6 473.3,143.3 472.1,145.4C470.9,147.5 470.7,148.9 469.8,151.3C468.9,153.7 468.2,156.0 467.4,158.4C466.6,160.8 465.8,163.4 465.5,164.5" fill="none" stroke="#85DFF7" stroke-width="6.40" stroke-linecap="round" stroke-linejoin="round" /><path d="M511.0,135.0C510.5,135.9 509.4,138.0 508.5,140.0C507.6,142.0 507.2,144.3 506.0,146.0C504.8,147.7 503.6,148.5 502.0,149.5C500.4,150.5 499.1,151.2 497.5,151.6C495.9,152.0 493.8,151.6 493.0,151.6" fill="none" stroke="#85DFF7" stroke-width="7.00" stroke-linecap="round" stroke-linejoin="round" /><path d="M501.0,165.6C501.1,166.2 502.0,167.8 501.6,169.0C501.2,170.2 500.0,171.4 499.0,172.4C498.0,173.4 496.6,174.0 496.0,174.4" fill="none" stroke="#85DFF7" stroke-width="6.50" stroke-linecap="round" stroke-linejoin="round" /><ellipse cx="521.0" cy="137.6" rx="4.6" ry="3.2" fill="#85DFF7" transform="rotate(0 521.0 137.6)"/><ellipse cx="466.0" cy="164.0" rx="3.0" ry="4.0" fill="#85DFF7" transform="rotate(0 466.0 164.0)"/><ellipse cx="479.5" cy="125.5" rx="5.2" ry="8.8" fill="#85DFF7" transform="rotate(0 479.5 125.5)"/><path d="M473.5,46.5C473.7,46.1 475.0,47.8 476.0,48.0C477.0,48.2 477.9,48.0 479.0,47.5C480.1,47.0 480.8,45.6 482.0,45.0C483.2,44.4 484.3,43.9 485.5,44.0C486.7,44.1 487.7,44.7 488.5,45.5C489.3,46.3 490.3,47.7 490.0,48.5C489.7,49.3 488.3,49.5 487.0,50.0C485.7,50.5 484.3,50.5 483.0,51.0C481.7,51.5 481.1,52.1 480.0,52.5C478.9,52.9 477.9,53.5 477.0,53.0C476.1,52.5 475.6,51.2 475.0,50.0C474.4,48.8 473.3,46.9 473.5,46.5Z" fill="#0A62E6" /><path d="M491.0,53.5C489.7,53.8 486.4,54.2 484.0,55.0C481.6,55.8 480.3,56.4 478.0,58.0C475.7,59.6 473.3,61.7 471.5,64.0C469.7,66.3 469.6,68.6 468.0,70.5C466.4,72.4 465.2,73.5 463.0,74.5C460.8,75.5 458.4,75.3 456.0,76.0C453.6,76.7 451.9,77.2 450.0,78.5C448.1,79.8 446.9,81.4 445.5,83.0C444.1,84.6 443.1,86.3 442.5,87.0" fill="none" stroke="#0A62E6" stroke-width="8.60" stroke-linecap="round" stroke-linejoin="round" /><path d="M491.0,53.5C489.7,53.8 486.4,54.2 484.0,55.0C481.6,55.8 480.3,56.4 478.0,58.0C475.7,59.6 473.3,61.7 471.5,64.0C469.7,66.3 469.6,68.6 468.0,70.5C466.4,72.4 465.2,73.5 463.0,74.5C460.8,75.5 458.4,75.3 456.0,76.0C453.6,76.7 451.9,77.2 450.0,78.5C448.1,79.8 446.9,81.4 445.5,83.0C444.1,84.6 443.1,86.3 442.5,87.0" fill="none" stroke="#3DA51A" stroke-width="6.40" stroke-linecap="round" stroke-linejoin="round" /><ellipse cx="484.7" cy="55.0" rx="5.0" ry="3.6" fill="#8A4468" transform="rotate(0 484.7 55.0)"/><ellipse cx="450.0" cy="79.5" rx="1.3" ry="1.3" fill="#8A4468" transform="rotate(0 450.0 79.5)"/><ellipse cx="461.0" cy="99.0" rx="4.4" ry="3.6" fill="#0A62E6" transform="rotate(0 461.0 99.0)"/><ellipse cx="432.0" cy="49.5" rx="3.0" ry="3.0" fill="#0A62E6" transform="rotate(0 432.0 49.5)"/><ellipse cx="479.5" cy="125.5" rx="4.0" ry="7.5" fill="#0A62E6" transform="rotate(0 479.5 125.5)"/><ellipse cx="480.0" cy="127.5" rx="2.4" ry="3.6" fill="#3DA51A" transform="rotate(0 480.0 127.5)"/><path d="M482.0,137.0C480.9,137.6 477.6,139.3 476.0,140.5C474.4,141.7 473.8,143.2 473.3,143.8" fill="none" stroke="#0A62E6" stroke-width="3.60" stroke-linecap="round" stroke-linejoin="round" /><ellipse cx="471.5" cy="147.7" rx="2.4" ry="3.5" fill="#3DA51A" transform="rotate(15 471.5 147.7)"/><ellipse cx="470.8" cy="148.0" rx="0.8" ry="0.8" fill="#8A4468" transform="rotate(0 470.8 148.0)"/><ellipse cx="468.8" cy="153.0" rx="1.7" ry="2.0" fill="#0A62E6" transform="rotate(0 468.8 153.0)"/><ellipse cx="466.2" cy="163.0" rx="1.8" ry="2.4" fill="#0A62E6" transform="rotate(0 466.2 163.0)"/><path d="M511.0,135.0C510.5,135.9 509.4,138.0 508.5,140.0C507.6,142.0 507.2,144.3 506.0,146.0C504.8,147.7 503.6,148.5 502.0,149.5C500.4,150.5 499.1,151.2 497.5,151.6C495.9,152.0 493.8,151.6 493.0,151.6" fill="none" stroke="#0A62E6" stroke-width="5.00" stroke-linecap="round" stroke-linejoin="round" /><ellipse cx="508.2" cy="141.8" rx="2.3" ry="4.4" fill="#3DA51A" transform="rotate(20 508.2 141.8)"/><ellipse cx="499.0" cy="151.3" rx="3.2" ry="2.3" fill="#3DA51A" transform="rotate(-10 499.0 151.3)"/><ellipse cx="521.0" cy="137.6" rx="3.0" ry="2.0" fill="#0A62E6" transform="rotate(0 521.0 137.6)"/><path d="M501.0,165.6C501.1,166.2 502.0,167.8 501.6,169.0C501.2,170.2 500.0,171.4 499.0,172.4C498.0,173.4 496.6,174.0 496.0,174.4" fill="none" stroke="#0A62E6" stroke-width="4.00" stroke-linecap="round" stroke-linejoin="round" /><ellipse cx="500.7" cy="168.7" rx="1.9" ry="2.0" fill="#3DA51A" transform="rotate(0 500.7 168.7)"/><ellipse cx="497.4" cy="173.2" rx="1.9" ry="1.9" fill="#3DA51A" transform="rotate(0 497.4 173.2)"/>
</g>
<text x="438.98" y="10.39" font-size="5.32" font-weight="bold" text-anchor="middle" fill="#111" stroke="#111" stroke-width="0.18">126°15'0&quot;E</text><line x1="438.98" y1="12.40" x2="438.98" y2="13.60" stroke="#777" stroke-width="0.6"/><text x="492.14" y="10.39" font-size="5.32" font-weight="bold" text-anchor="middle" fill="#111" stroke="#111" stroke-width="0.18">126°30'0&quot;E</text><line x1="492.14" y1="12.40" x2="492.14" y2="13.60" stroke="#777" stroke-width="0.6"/><text x="432.59" y="232.82" font-size="5.32" font-weight="bold" text-anchor="middle" fill="#111" stroke="#111" stroke-width="0.18">126°15'0&quot;E</text><line x1="432.59" y1="226.00" x2="432.59" y2="227.20" stroke="#777" stroke-width="0.6"/><text x="485.74" y="232.82" font-size="5.32" font-weight="bold" text-anchor="middle" fill="#111" stroke="#111" stroke-width="0.18">126°30'0&quot;E</text><line x1="485.74" y1="226.00" x2="485.74" y2="227.20" stroke="#777" stroke-width="0.6"/><text transform="translate(385.89,40.11) rotate(-90)" font-size="5.32" font-weight="bold" text-anchor="middle" fill="#111" stroke="#111" stroke-width="0.18">42°0'0&quot;N</text><line x1="387.40" y1="40.11" x2="388.60" y2="40.11" stroke="#777" stroke-width="0.6"/><text transform="translate(385.89,111.09) rotate(-90)" font-size="5.32" font-weight="bold" text-anchor="middle" fill="#111" stroke="#111" stroke-width="0.18">41°45'0&quot;N</text><line x1="387.40" y1="111.09" x2="388.60" y2="111.09" stroke="#777" stroke-width="0.6"/><text transform="translate(385.89,181.99) rotate(-90)" font-size="5.32" font-weight="bold" text-anchor="middle" fill="#111" stroke="#111" stroke-width="0.18">41°30'0&quot;N</text><line x1="387.40" y1="181.99" x2="388.60" y2="181.99" stroke="#777" stroke-width="0.6"/><text transform="translate(543.92,44.25) rotate(-90)" font-size="5.32" font-weight="bold" text-anchor="middle" fill="#111" stroke="#111" stroke-width="0.18">42°0'0&quot;N</text><line x1="537.40" y1="44.25" x2="538.60" y2="44.25" stroke="#777" stroke-width="0.6"/><text transform="translate(543.92,115.25) rotate(-90)" font-size="5.32" font-weight="bold" text-anchor="middle" fill="#111" stroke="#111" stroke-width="0.18">41°45'0&quot;N</text><line x1="537.40" y1="115.25" x2="538.60" y2="115.25" stroke="#777" stroke-width="0.6"/><text transform="translate(543.92,186.26) rotate(-90)" font-size="5.32" font-weight="bold" text-anchor="middle" fill="#111" stroke="#111" stroke-width="0.18">41°30'0&quot;N</text><line x1="537.40" y1="186.26" x2="538.60" y2="186.26" stroke="#777" stroke-width="0.6"/>
<g transform="translate(523.26,29.57) scale(1.003)"><circle r="4.8" fill="#fff" stroke="#1a1a1a" stroke-width="1.05"/><circle r="3.1" fill="#f3f9fb" stroke="#777" stroke-width="0.3"/><path d="M0,0 L-0.9,-0.9 L-4.3,-4.3 L-0.9,0.9 Z M0,0 L0.9,-0.9 L4.3,-4.3 L0.9,0.9Z M0,0 L0.9,0.9 L4.3,4.3 L-0.9,0.9Z M0,0 L-0.9,0.9 L-4.3,4.3 L-0.9,-0.9Z" fill="#555" opacity="0.28"/><path d="M0,-8.4 L1.4,-1.4 L8,0 L1.4,1.4 L0,8.8 L-1.4,1.4 L-8,0 L-1.4,-1.4 Z" fill="#fff" stroke="#222" stroke-width="0.45"/><path d="M0,-8.4 L0,0 L-1.4,-1.4 Z M8,0 L0,0 L1.4,-1.4 Z M0,8.8 L0,0 L1.4,1.4Z M-8,0 L0,0 L-1.4,1.4Z" fill="#222"/><text x="0.0" y="-10.0" font-size="3" font-weight="bold" text-anchor="middle" fill="#111">N</text><text x="0.0" y="12.9" font-size="3" font-weight="bold" text-anchor="middle" fill="#111">S</text><text x="-11.3" y="1.0" font-size="3" font-weight="bold" text-anchor="middle" fill="#111">W</text><text x="10.7" y="1.0" font-size="3" font-weight="bold" text-anchor="middle" fill="#111">E</text></g>
<rect x="499.01" y="214.01" width="25.52" height="2.11" fill="#fff" stroke="#000" stroke-width="0.4"/><rect x="499.01" y="214.01" width="8.51" height="2.11" fill="#000"/><rect x="516.02" y="214.01" width="8.51" height="2.11" fill="#000"/><text x="499.01" y="211.45" font-size="4.92" text-anchor="middle" fill="#111">0</text><text x="511.77" y="211.45" font-size="4.92" text-anchor="middle" fill="#111">5</text><text x="524.53" y="211.45" font-size="4.92" text-anchor="middle" fill="#111">10</text><text x="525.83" y="216.37" font-size="4.31" fill="#111">KM</text>
<text x="394.0" y="160.6" font-size="7.2" font-weight="bold" fill="#111" stroke="#111" stroke-width="0.15">Road density</text><text x="394.0" y="168.7" font-size="6.2" font-weight="bold" fill="#111" stroke="#111" stroke-width="0.1">(km/km²)</text><rect x="394.0" y="173.60" width="8.0" height="3.6" fill="#A87008" stroke="#999" stroke-width="0.25"/><text x="405.0" y="177.81" font-size="6.7" font-weight="bold" fill="#111" stroke="#111" stroke-width="0.12">&lt;0.026</text><rect x="394.0" y="182.60" width="8.0" height="3.6" fill="#7FE0FA" stroke="#999" stroke-width="0.25"/><text x="405.0" y="186.81" font-size="6.7" font-weight="bold" fill="#111" stroke="#111" stroke-width="0.12">0.026-0.068</text><rect x="394.0" y="191.80" width="8.0" height="3.6" fill="#0A62E6" stroke="#999" stroke-width="0.25"/><text x="405.0" y="196.01" font-size="6.7" font-weight="bold" fill="#111" stroke="#111" stroke-width="0.12">0.069-0.133</text><rect x="394.0" y="200.80" width="8.0" height="3.6" fill="#3DA51A" stroke="#999" stroke-width="0.25"/><text x="405.0" y="205.01" font-size="6.7" font-weight="bold" fill="#111" stroke="#111" stroke-width="0.12">0.134-0.215</text><rect x="394.0" y="209.80" width="8.0" height="3.6" fill="#8A4468" stroke="#999" stroke-width="0.25"/><text x="405.0" y="214.01" font-size="6.7" font-weight="bold" fill="#111" stroke="#111" stroke-width="0.12">&gt;0.215</text>
<text x="403.8" y="30.6" font-size="13.3" text-anchor="middle" fill="#111" stroke="#111" stroke-width="0.2">(l)</text>
</g>
<g id="panel-m">
<rect x="11.0" y="260.6" width="152.6" height="216.4" fill="#fff" stroke="#8a8a8a" stroke-width="1"/>
<g clip-path="url(#cm)">
<rect x="11.0" y="260.6" width="152.6" height="216.4" fill="#72D0EA"/><path d="M99.0,273.5C99.2,272.3 102.0,270.4 104.0,269.0C106.0,267.6 107.8,265.8 110.0,266.0C112.2,266.2 114.3,268.3 116.0,270.0C117.7,271.7 118.8,273.9 119.5,275.5C120.2,277.1 120.5,278.0 120.0,279.0C119.5,280.0 118.2,280.4 117.0,281.0C115.8,281.6 114.6,282.1 113.5,282.0C112.4,281.9 111.9,280.5 111.0,280.5C110.1,280.5 109.2,280.6 108.5,282.0C107.8,283.4 107.5,286.7 107.0,288.0C106.5,289.3 105.6,290.1 105.5,289.0C105.4,287.9 106.4,284.0 106.5,282.0C106.6,280.0 106.6,279.2 106.0,278.0C105.4,276.8 104.3,276.3 103.0,275.5C101.7,274.7 98.8,274.7 99.0,273.5Z" fill="#DCC878" /><path d="M78.0,348.0C81.8,346.0 80.1,341.6 81.0,339.0C81.9,336.4 81.5,335.6 83.0,334.0C84.5,332.4 86.8,331.1 89.0,330.0C91.2,328.9 93.0,328.0 95.0,328.0C97.0,328.0 99.1,328.4 100.0,330.0C100.9,331.6 100.4,334.2 100.0,337.0C99.6,339.8 99.1,342.2 98.0,345.0C96.9,347.8 96.0,349.8 94.0,352.0C92.0,354.2 89.6,355.4 87.0,357.0C84.4,358.6 82.4,359.4 80.0,361.0C77.6,362.6 76.0,364.2 74.0,366.0C72.0,367.8 70.3,369.4 69.0,371.0C67.7,372.6 68.7,374.1 67.0,375.0C65.3,375.9 61.3,380.6 60.0,376.0C58.7,371.4 56.7,355.1 60.0,350.0C63.3,344.9 74.2,350.0 78.0,348.0Z" fill="#D0C870" /><polygon points="123.0,322.0 128.0,319.0 135.0,320.0 140.0,330.0 175.0,340.0 175.0,480.0 60.0,480.0 60.0,392.0 84.0,390.0 88.0,380.0 90.0,374.0 96.0,369.0 102.0,366.0 108.0,362.0 111.0,356.0 113.0,349.0 116.0,344.0 121.0,342.0 124.0,338.0 124.0,330.0" fill="#D0C870" /><path d="M100.0,320.0C101.8,318.9 103.8,321.0 106.0,321.0C108.2,321.0 109.8,319.8 112.0,320.0C114.2,320.2 115.8,321.3 118.0,322.0C120.2,322.7 122.7,322.2 124.0,324.0C125.3,325.8 125.0,329.2 125.0,332.0C125.0,334.8 124.9,337.2 124.0,339.0C123.1,340.8 121.7,341.1 120.0,342.0C118.3,342.9 116.5,344.4 115.0,344.0C113.5,343.6 113.7,341.1 112.0,340.0C110.3,338.9 108.0,338.7 106.0,338.0C104.0,337.3 102.3,337.5 101.0,336.0C99.7,334.5 99.9,331.6 99.0,330.0C98.1,328.4 95.8,328.8 96.0,327.0C96.2,325.2 98.2,321.1 100.0,320.0Z" fill="url(#dith)" /><path d="M102.6,338.0C103.2,338.2 103.8,340.3 104.3,342.1C104.8,343.9 104.7,347.4 105.5,348.0C106.3,348.6 107.4,346.5 108.5,345.6C109.6,344.7 111.2,342.9 111.4,343.3C111.6,343.7 110.4,346.1 109.6,348.0C108.8,349.9 107.9,352.0 107.3,353.9C106.7,355.8 106.0,357.0 106.1,358.6C106.2,360.2 108.1,361.5 107.9,362.8C107.7,364.1 106.3,364.6 104.9,365.7C103.5,366.8 101.9,367.8 100.2,368.7C98.5,369.6 97.2,369.7 95.5,370.5C93.8,371.3 92.1,371.5 90.7,372.8C89.3,374.1 88.6,375.9 87.8,377.6C87.0,379.3 87.0,380.6 86.6,382.3C86.2,384.0 86.6,386.0 85.4,387.0C84.2,388.0 82.2,387.6 80.1,387.6C78.0,387.6 75.8,387.8 74.2,387.0C72.6,386.2 72.3,384.8 71.2,383.5C70.1,382.2 69.1,381.4 68.3,379.9C67.5,378.4 66.5,376.7 67.1,375.2C67.7,373.7 69.9,372.9 71.8,371.6C73.7,370.3 75.5,369.5 77.7,368.1C79.9,366.7 81.4,365.3 83.6,364.0C85.8,362.7 87.4,362.2 89.6,361.0C91.8,359.8 93.8,359.0 95.5,357.5C97.2,356.0 98.1,354.7 99.0,352.7C99.9,350.7 99.8,348.9 100.2,346.8C100.6,344.7 100.6,342.6 101.0,341.0C101.4,339.4 102.0,337.8 102.6,338.0Z" fill="#F0645C" stroke="#72D0EA" stroke-width="2.2" stroke-linejoin="round"/><path d="M102.6,338.0C103.2,338.2 103.8,340.3 104.3,342.1C104.8,343.9 104.7,347.4 105.5,348.0C106.3,348.6 107.4,346.5 108.5,345.6C109.6,344.7 111.2,342.9 111.4,343.3C111.6,343.7 110.4,346.1 109.6,348.0C108.8,349.9 107.9,352.0 107.3,353.9C106.7,355.8 106.0,357.0 106.1,358.6C106.2,360.2 108.1,361.5 107.9,362.8C107.7,364.1 106.3,364.6 104.9,365.7C103.5,366.8 101.9,367.8 100.2,368.7C98.5,369.6 97.2,369.7 95.5,370.5C93.8,371.3 92.1,371.5 90.7,372.8C89.3,374.1 88.6,375.9 87.8,377.6C87.0,379.3 87.0,380.6 86.6,382.3C86.2,384.0 86.6,386.0 85.4,387.0C84.2,388.0 82.2,387.6 80.1,387.6C78.0,387.6 75.8,387.8 74.2,387.0C72.6,386.2 72.3,384.8 71.2,383.5C70.1,382.2 69.1,381.4 68.3,379.9C67.5,378.4 66.5,376.7 67.1,375.2C67.7,373.7 69.9,372.9 71.8,371.6C73.7,370.3 75.5,369.5 77.7,368.1C79.9,366.7 81.4,365.3 83.6,364.0C85.8,362.7 87.4,362.2 89.6,361.0C91.8,359.8 93.8,359.0 95.5,357.5C97.2,356.0 98.1,354.7 99.0,352.7C99.9,350.7 99.8,348.9 100.2,346.8C100.6,344.7 100.6,342.6 101.0,341.0C101.4,339.4 102.0,337.8 102.6,338.0Z" fill="#F0645C" /><path d="M91.0,295.0C91.5,294.2 93.3,292.9 94.5,293.0C95.7,293.1 96.5,294.5 97.5,295.5C98.5,296.5 99.0,298.1 100.0,298.5C101.0,298.9 102.0,297.8 103.0,297.5C104.0,297.2 104.8,297.6 105.5,297.0C106.2,296.4 106.2,294.8 107.0,294.0C107.8,293.2 108.7,292.7 110.0,292.5C111.3,292.3 112.7,292.5 114.0,293.0C115.3,293.5 116.5,294.0 117.0,295.0C117.5,296.0 117.4,297.3 117.0,298.5C116.6,299.7 115.9,300.6 115.0,301.5C114.1,302.4 113.0,302.7 112.0,303.5C111.0,304.3 110.1,304.8 109.5,306.0C108.9,307.2 109.0,308.7 108.5,310.0C108.0,311.3 107.8,312.0 107.0,313.0C106.2,314.0 105.1,314.7 104.0,315.5C102.9,316.3 102.0,316.8 101.0,317.5C100.0,318.2 99.3,318.7 98.5,319.5C97.7,320.3 97.5,321.5 96.5,322.0C95.5,322.5 94.2,322.4 93.0,322.0C91.8,321.6 90.7,321.0 90.0,320.0C89.3,319.0 89.0,317.8 89.0,316.5C89.0,315.2 89.5,314.2 90.0,313.0C90.5,311.8 91.0,311.1 91.5,310.0C92.0,308.9 92.3,308.1 93.0,307.0C93.7,305.9 94.9,305.1 95.5,304.0C96.1,302.9 96.8,301.9 96.5,301.0C96.2,300.1 94.9,299.6 94.0,299.0C93.1,298.4 92.0,298.2 91.5,297.5C91.0,296.8 90.5,295.8 91.0,295.0Z" fill="#F0645C" /><path d="M98.5,284.0C99.3,283.2 102.2,280.3 103.0,279.5" fill="none" stroke="#F0645C" stroke-width="2.20" stroke-linecap="round" stroke-linejoin="round" /><ellipse cx="121.5" cy="282.5" rx="1.8" ry="2.2" fill="#F0645C" transform="rotate(0 121.5 282.5)"/><ellipse cx="118.5" cy="288.5" rx="2.6" ry="1.2" fill="#F0645C" transform="rotate(0 118.5 288.5)"/><ellipse cx="117.0" cy="294.0" rx="1.2" ry="1.2" fill="#F0645C" transform="rotate(0 117.0 294.0)"/><path d="M65.0,322.0C66.3,321.3 67.5,320.4 69.0,320.5C70.5,320.6 71.7,322.3 73.0,322.5C74.3,322.7 74.9,321.9 76.0,321.5C77.1,321.1 77.5,320.9 79.0,320.5C80.5,320.1 82.2,319.7 84.0,319.5C85.8,319.3 87.3,319.7 89.0,319.5C90.7,319.3 91.3,318.6 93.0,318.5C94.7,318.4 96.2,318.6 98.0,319.0C99.8,319.4 101.3,320.5 103.0,320.5C104.7,320.5 105.7,318.9 107.0,319.0C108.3,319.1 110.4,320.1 110.0,321.0C109.6,321.9 107.0,323.3 105.0,324.0C103.0,324.7 100.8,324.8 99.0,325.0C97.2,325.2 96.7,324.7 95.0,325.0C93.3,325.3 92.0,326.0 90.0,326.5C88.0,327.0 85.8,327.1 84.0,327.5C82.2,327.9 81.2,327.7 80.0,328.5C78.8,329.3 78.2,330.6 77.5,332.0C76.8,333.4 75.8,334.9 76.0,336.0C76.2,337.1 77.5,337.3 78.5,338.0C79.5,338.7 80.5,339.1 81.5,340.0C82.5,340.9 83.5,341.8 84.0,343.0C84.5,344.2 85.1,345.6 84.5,346.5C83.9,347.4 82.1,348.1 80.5,348.0C78.9,347.9 77.4,347.1 76.0,346.0C74.6,344.9 74.1,343.4 73.0,342.0C71.9,340.6 71.1,339.6 70.0,338.5C68.9,337.4 67.8,337.2 67.0,336.0C66.2,334.8 66.4,333.2 65.5,332.0C64.6,330.8 63.0,330.4 62.0,329.5C61.0,328.6 60.0,327.9 60.0,327.0C60.0,326.1 61.1,325.4 62.0,324.5C62.9,323.6 63.7,322.7 65.0,322.0Z" fill="#F0645C" /><ellipse cx="61.5" cy="319.5" rx="3.4" ry="1.6" fill="#F0645C" transform="rotate(20 61.5 319.5)"/><ellipse cx="57.0" cy="332.0" rx="2.7" ry="1.7" fill="#F0645C" transform="rotate(25 57.0 332.0)"/><ellipse cx="69.0" cy="314.0" rx="2.2" ry="2.6" fill="#F0645C" transform="rotate(0 69.0 314.0)"/><path d="M61.0,298.0C61.4,296.9 64.0,295.9 66.0,295.0C68.0,294.1 70.3,293.0 72.0,293.0C73.7,293.0 75.0,294.1 75.0,295.0C75.0,295.9 73.3,296.9 72.0,298.0C70.7,299.1 69.5,300.4 68.0,301.0C66.5,301.6 65.3,301.6 64.0,301.0C62.7,300.4 60.6,299.1 61.0,298.0Z" fill="#F0645C" /><ellipse cx="48.5" cy="310.0" rx="3.5" ry="1.6" fill="#F0645C" transform="rotate(0 48.5 310.0)"/><ellipse cx="55.0" cy="305.0" rx="1.2" ry="1.2" fill="#F0645C" transform="rotate(0 55.0 305.0)"/><ellipse cx="57.0" cy="308.0" rx="1.2" ry="1.2" fill="#F0645C" transform="rotate(0 57.0 308.0)"/><ellipse cx="68.0" cy="310.0" rx="1.3" ry="1.3" fill="#F0645C" transform="rotate(0 68.0 310.0)"/><ellipse cx="70.0" cy="312.0" rx="1.3" ry="1.3" fill="#F0645C" transform="rotate(0 70.0 312.0)"/><ellipse cx="82.0" cy="309.0" rx="1.2" ry="1.2" fill="#F0645C" transform="rotate(0 82.0 309.0)"/><ellipse cx="82.0" cy="317.0" rx="1.2" ry="1.2" fill="#F0645C" transform="rotate(0 82.0 317.0)"/><ellipse cx="74.0" cy="283.0" rx="1.2" ry="1.2" fill="#F0645C" transform="rotate(0 74.0 283.0)"/><ellipse cx="94.0" cy="285.0" rx="1.3" ry="1.3" fill="#F0645C" transform="rotate(0 94.0 285.0)"/><ellipse cx="95.0" cy="292.0" rx="1.6" ry="1.6" fill="#F0645C" transform="rotate(0 95.0 292.0)"/><ellipse cx="113.0" cy="288.0" rx="1.4" ry="1.4" fill="#F0645C" transform="rotate(0 113.0 288.0)"/><ellipse cx="118.0" cy="292.0" rx="1.4" ry="1.4" fill="#F0645C" transform="rotate(0 118.0 292.0)"/><ellipse cx="119.0" cy="296.0" rx="1.4" ry="1.4" fill="#F0645C" transform="rotate(0 119.0 296.0)"/><ellipse cx="112.0" cy="303.0" rx="1.8" ry="1.8" fill="#F0645C" transform="rotate(0 112.0 303.0)"/><ellipse cx="61.5" cy="320.5" rx="2.2" ry="2.2" fill="#F0645C" transform="rotate(0 61.5 320.5)"/><ellipse cx="123.0" cy="326.0" rx="1.5" ry="1.5" fill="#F0645C" transform="rotate(0 123.0 326.0)"/><ellipse cx="98.5" cy="326.0" rx="1.1" ry="1.1" fill="#F0645C" transform="rotate(0 98.5 326.0)"/><ellipse cx="100.5" cy="329.5" rx="1.1" ry="1.1" fill="#F0645C" transform="rotate(0 100.5 329.5)"/><ellipse cx="107.0" cy="334.0" rx="1.1" ry="1.1" fill="#F0645C" transform="rotate(0 107.0 334.0)"/><ellipse cx="96.0" cy="336.5" rx="1.1" ry="1.1" fill="#F0645C" transform="rotate(0 96.0 336.5)"/><ellipse cx="86.0" cy="300.0" rx="1.0" ry="1.0" fill="#F0645C" transform="rotate(0 86.0 300.0)"/><ellipse cx="78.0" cy="304.0" rx="1.0" ry="1.0" fill="#F0645C" transform="rotate(0 78.0 304.0)"/><ellipse cx="88.0" cy="287.0" rx="1.0" ry="1.0" fill="#F0645C" transform="rotate(0 88.0 287.0)"/><ellipse cx="115.0" cy="281.0" rx="1.0" ry="1.0" fill="#F0645C" transform="rotate(0 115.0 281.0)"/><ellipse cx="109.0" cy="277.0" rx="1.0" ry="1.0" fill="#F0645C" transform="rotate(0 109.0 277.0)"/><ellipse cx="110.5" cy="284.5" rx="1.2" ry="1.2" fill="#F0645C" transform="rotate(0 110.5 284.5)"/><ellipse cx="111.6" cy="289.8" rx="1.2" ry="1.2" fill="#F0645C" transform="rotate(0 111.6 289.8)"/><ellipse cx="93.3" cy="285.0" rx="1.2" ry="1.2" fill="#F0645C" transform="rotate(0 93.3 285.0)"/><ellipse cx="99.8" cy="286.8" rx="1.2" ry="1.2" fill="#F0645C" transform="rotate(0 99.8 286.8)"/><ellipse cx="86.2" cy="289.0" rx="1.2" ry="1.2" fill="#F0645C" transform="rotate(0 86.2 289.0)"/><ellipse cx="93.9" cy="291.0" rx="1.2" ry="1.2" fill="#F0645C" transform="rotate(0 93.9 291.0)"/><ellipse cx="80.3" cy="277.4" rx="1.3" ry="1.3" fill="#F0645C" transform="rotate(0 80.3 277.4)"/><ellipse cx="77.4" cy="279.0" rx="1.2" ry="1.2" fill="#F0645C" transform="rotate(0 77.4 279.0)"/><ellipse cx="80.3" cy="300.4" rx="1.2" ry="1.2" fill="#F0645C" transform="rotate(0 80.3 300.4)"/><ellipse cx="88.0" cy="302.8" rx="1.2" ry="1.2" fill="#F0645C" transform="rotate(0 88.0 302.8)"/><ellipse cx="81.5" cy="308.7" rx="1.2" ry="1.2" fill="#F0645C" transform="rotate(0 81.5 308.7)"/><ellipse cx="86.2" cy="309.9" rx="1.2" ry="1.2" fill="#F0645C" transform="rotate(0 86.2 309.9)"/><ellipse cx="77.4" cy="312.8" rx="1.2" ry="1.2" fill="#F0645C" transform="rotate(0 77.4 312.8)"/><ellipse cx="81.5" cy="317.0" rx="1.2" ry="1.2" fill="#F0645C" transform="rotate(0 81.5 317.0)"/><ellipse cx="112.8" cy="302.8" rx="1.3" ry="1.3" fill="#F0645C" transform="rotate(0 112.8 302.8)"/><ellipse cx="115.8" cy="304.5" rx="1.3" ry="1.3" fill="#F0645C" transform="rotate(0 115.8 304.5)"/><ellipse cx="118.8" cy="293.0" rx="1.6" ry="1.6" fill="#F0645C" transform="rotate(0 118.8 293.0)"/><ellipse cx="75.0" cy="317.0" rx="1.1" ry="1.1" fill="#F0645C" transform="rotate(0 75.0 317.0)"/><ellipse cx="81.5" cy="312.0" rx="1.0" ry="1.0" fill="#F0645C" transform="rotate(0 81.5 312.0)"/><ellipse cx="88.5" cy="309.0" rx="1.0" ry="1.0" fill="#F0645C" transform="rotate(0 88.5 309.0)"/><ellipse cx="110.0" cy="316.5" rx="3.6" ry="2.2" fill="#F0645C" transform="rotate(0 110.0 316.5)"/><ellipse cx="111.0" cy="326.5" rx="1.8" ry="3.5" fill="#F0645C" transform="rotate(0 111.0 326.5)"/><ellipse cx="129.0" cy="327.0" rx="1.5" ry="2.6" fill="#F0645C" transform="rotate(0 129.0 327.0)"/><polygon points="115.0,331.0 121.0,331.0 122.0,340.0 118.5,340.0 118.5,335.0 115.0,335.0" fill="#F0645C" /><ellipse cx="126.0" cy="370.0" rx="2.0" ry="2.0" fill="#72D0EA" transform="rotate(0 126.0 370.0)"/><ellipse cx="126.0" cy="370.0" rx="1.1" ry="1.1" fill="#F0645C" transform="rotate(0 126.0 370.0)"/><ellipse cx="128.0" cy="368.0" rx="2.0" ry="2.0" fill="#72D0EA" transform="rotate(0 128.0 368.0)"/><ellipse cx="128.0" cy="368.0" rx="1.1" ry="1.1" fill="#F0645C" transform="rotate(0 128.0 368.0)"/><ellipse cx="115.0" cy="391.0" rx="2.0" ry="2.0" fill="#72D0EA" transform="rotate(0 115.0 391.0)"/><ellipse cx="115.0" cy="391.0" rx="1.1" ry="1.1" fill="#F0645C" transform="rotate(0 115.0 391.0)"/><ellipse cx="116.0" cy="397.0" rx="2.0" ry="2.0" fill="#72D0EA" transform="rotate(0 116.0 397.0)"/><ellipse cx="116.0" cy="397.0" rx="1.1" ry="1.1" fill="#F0645C" transform="rotate(0 116.0 397.0)"/><ellipse cx="119.0" cy="405.0" rx="2.0" ry="2.0" fill="#72D0EA" transform="rotate(0 119.0 405.0)"/><ellipse cx="119.0" cy="405.0" rx="1.1" ry="1.1" fill="#F0645C" transform="rotate(0 119.0 405.0)"/><ellipse cx="134.0" cy="395.0" rx="2.0" ry="2.0" fill="#72D0EA" transform="rotate(0 134.0 395.0)"/><ellipse cx="134.0" cy="395.0" rx="1.1" ry="1.1" fill="#F0645C" transform="rotate(0 134.0 395.0)"/><path d="M96.0,306.0C97.0,304.2 97.5,303.6 99.0,303.0C100.5,302.4 102.8,302.3 104.0,303.0C105.2,303.7 105.7,305.5 105.5,307.0C105.3,308.5 104.2,309.8 103.0,311.0C101.8,312.2 100.3,312.6 99.0,313.5C97.7,314.4 96.9,314.9 96.0,316.0C95.1,317.1 94.6,319.3 94.0,319.5C93.4,319.7 92.6,318.2 92.5,317.0C92.4,315.8 92.9,315.0 93.5,313.0C94.1,311.0 95.0,307.8 96.0,306.0Z" fill="#4046D2" stroke="#48D048" stroke-width="1.6" stroke-linejoin="round"/>
</g>
<text x="62.67" y="257.31" font-size="5.45" font-weight="bold" text-anchor="middle" fill="#111" stroke="#111" stroke-width="0.18">126°15'0&quot;E</text><line x1="62.67" y1="259.40" x2="62.67" y2="260.60" stroke="#777" stroke-width="0.6"/><text x="117.18" y="257.31" font-size="5.45" font-weight="bold" text-anchor="middle" fill="#111" stroke="#111" stroke-width="0.18">126°30'0&quot;E</text><line x1="117.18" y1="259.40" x2="117.18" y2="260.60" stroke="#777" stroke-width="0.6"/><text x="56.11" y="484.00" font-size="5.45" font-weight="bold" text-anchor="middle" fill="#111" stroke="#111" stroke-width="0.18">126°15'0&quot;E</text><line x1="56.11" y1="477.00" x2="56.11" y2="478.20" stroke="#777" stroke-width="0.6"/><text x="110.62" y="484.00" font-size="5.45" font-weight="bold" text-anchor="middle" fill="#111" stroke="#111" stroke-width="0.18">126°30'0&quot;E</text><line x1="110.62" y1="477.00" x2="110.62" y2="478.20" stroke="#777" stroke-width="0.6"/><text transform="translate(8.22,287.61) rotate(-90)" font-size="5.45" font-weight="bold" text-anchor="middle" fill="#111" stroke="#111" stroke-width="0.18">42°0'0&quot;N</text><line x1="9.80" y1="287.61" x2="11.00" y2="287.61" stroke="#777" stroke-width="0.6"/><text transform="translate(8.22,359.93) rotate(-90)" font-size="5.45" font-weight="bold" text-anchor="middle" fill="#111" stroke="#111" stroke-width="0.18">41°45'0&quot;N</text><line x1="9.80" y1="359.93" x2="11.00" y2="359.93" stroke="#777" stroke-width="0.6"/><text transform="translate(8.22,432.16) rotate(-90)" font-size="5.45" font-weight="bold" text-anchor="middle" fill="#111" stroke="#111" stroke-width="0.18">41°30'0&quot;N</text><line x1="9.80" y1="432.16" x2="11.00" y2="432.16" stroke="#777" stroke-width="0.6"/><text transform="translate(170.29,291.83) rotate(-90)" font-size="5.45" font-weight="bold" text-anchor="middle" fill="#111" stroke="#111" stroke-width="0.18">42°0'0&quot;N</text><line x1="163.60" y1="291.83" x2="164.80" y2="291.83" stroke="#777" stroke-width="0.6"/><text transform="translate(170.29,364.17) rotate(-90)" font-size="5.45" font-weight="bold" text-anchor="middle" fill="#111" stroke="#111" stroke-width="0.18">41°45'0&quot;N</text><line x1="163.60" y1="364.17" x2="164.80" y2="364.17" stroke="#777" stroke-width="0.6"/><text transform="translate(170.29,436.51) rotate(-90)" font-size="5.45" font-weight="bold" text-anchor="middle" fill="#111" stroke="#111" stroke-width="0.18">41°30'0&quot;N</text><line x1="163.60" y1="436.51" x2="164.80" y2="436.51" stroke="#777" stroke-width="0.6"/>
<g transform="translate(149.10,276.87) scale(1.029)"><circle r="4.8" fill="#fff" stroke="#1a1a1a" stroke-width="1.05"/><circle r="3.1" fill="#f3f9fb" stroke="#777" stroke-width="0.3"/><path d="M0,0 L-0.9,-0.9 L-4.3,-4.3 L-0.9,0.9 Z M0,0 L0.9,-0.9 L4.3,-4.3 L0.9,0.9Z M0,0 L0.9,0.9 L4.3,4.3 L-0.9,0.9Z M0,0 L-0.9,0.9 L-4.3,4.3 L-0.9,-0.9Z" fill="#555" opacity="0.28"/><path d="M0,-8.4 L1.4,-1.4 L8,0 L1.4,1.4 L0,8.8 L-1.4,1.4 L-8,0 L-1.4,-1.4 Z" fill="#fff" stroke="#222" stroke-width="0.45"/><path d="M0,-8.4 L0,0 L-1.4,-1.4 Z M8,0 L0,0 L1.4,-1.4 Z M0,8.8 L0,0 L1.4,1.4Z M-8,0 L0,0 L-1.4,1.4Z" fill="#222"/><text x="0.0" y="-10.0" font-size="3" font-weight="bold" text-anchor="middle" fill="#111">N</text><text x="0.0" y="12.9" font-size="3" font-weight="bold" text-anchor="middle" fill="#111">S</text><text x="-11.3" y="1.0" font-size="3" font-weight="bold" text-anchor="middle" fill="#111">W</text><text x="10.7" y="1.0" font-size="3" font-weight="bold" text-anchor="middle" fill="#111">E</text></g>
<rect x="124.23" y="464.77" width="26.17" height="2.16" fill="#fff" stroke="#000" stroke-width="0.4"/><rect x="124.23" y="464.77" width="8.72" height="2.16" fill="#000"/><rect x="141.68" y="464.77" width="8.72" height="2.16" fill="#000"/><text x="124.23" y="462.15" font-size="5.04" text-anchor="middle" fill="#111">0</text><text x="137.31" y="462.15" font-size="5.04" text-anchor="middle" fill="#111">5</text><text x="150.40" y="462.15" font-size="5.04" text-anchor="middle" fill="#111">10</text><text x="151.74" y="467.19" font-size="4.42" fill="#111">KM</text>
<text x="20.5" y="411.8" font-size="7.7" font-weight="bold" fill="#111" stroke="#111" stroke-width="0.15">GDP</text><text x="20.0" y="420.2" font-size="6.2" font-weight="bold" fill="#111" stroke="#111" stroke-width="0.1">(million yuan/km²)</text><rect x="20.0" y="424.70" width="8.6" height="3.8" fill="#4046D2" stroke="#999" stroke-width="0.25"/><text x="31.6" y="429.05" font-size="6.8" font-weight="bold" fill="#111" stroke="#111" stroke-width="0.12">&gt;313</text><rect x="20.0" y="434.10" width="8.6" height="3.8" fill="#48D048" stroke="#999" stroke-width="0.25"/><text x="31.6" y="438.45" font-size="6.8" font-weight="bold" fill="#111" stroke="#111" stroke-width="0.12">205-313</text><rect x="20.0" y="443.50" width="8.6" height="3.8" fill="#F0645C" stroke="#999" stroke-width="0.25"/><text x="31.6" y="447.85" font-size="6.8" font-weight="bold" fill="#111" stroke="#111" stroke-width="0.12">132-204</text><rect x="20.0" y="452.50" width="8.6" height="3.8" fill="#72D0EA" stroke="#999" stroke-width="0.25"/><text x="31.6" y="456.85" font-size="6.8" font-weight="bold" fill="#111" stroke="#111" stroke-width="0.12">96-131</text><rect x="20.0" y="461.70" width="8.6" height="3.8" fill="#D0C870" stroke="#999" stroke-width="0.25"/><text x="31.6" y="466.05" font-size="6.8" font-weight="bold" fill="#111" stroke="#111" stroke-width="0.12">&lt;96</text>
<text x="26.6" y="277.9" font-size="13.7" text-anchor="middle" fill="#111" stroke="#111" stroke-width="0.2">(m)</text>
</g>
<g id="panel-n">
<rect x="197.6" y="260.0" width="152.4" height="218.4" fill="#fff" stroke="#8a8a8a" stroke-width="1"/>
<g clip-path="url(#cn)">
<rect x="197.6" y="260.0" width="152.4" height="218.4" fill="#6CA8F5"/><path d="M297.0,324.0C295.6,324.2 294.3,324.6 293.0,325.5C291.7,326.4 290.9,327.6 290.0,329.0C289.1,330.4 289.1,331.6 288.0,333.0C286.9,334.4 285.5,335.2 284.0,336.5C282.5,337.8 281.5,338.6 280.0,340.0C278.5,341.4 277.6,342.5 276.0,344.0C274.4,345.5 272.8,346.7 271.0,348.0C269.2,349.3 267.6,350.1 266.0,351.0C264.4,351.9 263.5,352.3 262.0,353.0C260.5,353.7 259.5,354.1 258.0,355.0C256.5,355.9 255.8,356.0 254.0,358.0C252.2,360.0 249.1,359.6 248.0,366.0C246.9,372.4 246.3,388.1 248.0,393.0C249.7,397.9 254.8,393.6 257.0,393.0C259.2,392.4 259.7,391.3 260.0,390.0C260.3,388.7 259.0,387.6 258.6,386.0C258.2,384.4 257.8,382.9 257.8,381.0C257.8,379.1 258.0,377.4 258.5,375.5C259.0,373.6 259.6,372.1 260.5,370.5C261.4,368.9 262.1,367.8 263.5,366.5C264.9,365.2 266.3,364.4 268.0,363.5C269.7,362.6 271.3,362.7 273.0,361.8C274.7,360.9 275.8,360.3 277.5,358.6C279.2,356.9 280.8,354.5 282.2,352.7C283.6,350.9 284.0,350.4 285.0,349.0C286.0,347.6 286.9,346.6 287.5,345.0C288.1,343.4 288.0,341.6 288.5,340.0C289.0,338.4 289.2,337.1 290.0,336.0C290.8,334.9 291.5,334.7 293.0,334.0C294.5,333.3 296.4,332.8 298.0,332.0C299.6,331.2 300.8,330.5 301.5,329.5C302.2,328.5 302.2,327.4 302.0,326.5C301.8,325.6 301.4,325.0 300.5,324.5C299.6,324.0 298.4,323.8 297.0,324.0Z" fill="#0A2878" /><polygon points="301.0,316.0 307.0,319.0 311.0,325.0 313.0,332.0 312.0,338.0 309.5,341.0 305.0,349.0 302.0,354.0 299.0,359.0 295.0,363.0 290.5,365.7 284.6,366.9 278.6,366.3 275.1,369.3 272.7,374.0 269.8,379.9 266.8,385.8 264.5,389.4 262.0,392.0 250.0,394.0 250.0,450.0 360.0,450.0 360.0,300.0 310.0,305.0" fill="#0A2878" /><path d="M310.0,369.0C311.2,369.4 313.1,370.4 313.6,372.0C314.2,373.6 313.8,375.8 313.0,378.0C312.2,380.2 310.1,381.4 309.0,384.0C307.9,386.6 307.2,388.7 307.0,392.0C306.8,395.3 307.4,398.7 308.0,402.0C308.6,405.3 308.7,407.6 310.0,410.0C311.3,412.4 313.9,413.4 315.0,415.0C316.1,416.6 316.6,417.7 316.0,419.0C315.4,420.3 313.6,422.0 312.0,422.0C310.4,422.0 308.8,420.8 307.0,419.0C305.2,417.2 303.5,414.8 302.0,412.0C300.5,409.2 300.1,406.9 299.0,404.0C297.9,401.1 297.5,398.6 296.0,396.0C294.5,393.4 292.5,392.2 291.0,390.0C289.5,387.8 288.2,386.2 288.0,384.0C287.8,381.8 288.7,379.5 290.0,378.0C291.3,376.5 292.8,376.2 295.0,376.0C297.2,375.8 300.0,377.4 302.0,377.0C304.0,376.6 305.1,375.3 306.0,374.0C306.9,372.7 306.3,370.9 307.0,370.0C307.7,369.1 308.8,368.6 310.0,369.0Z" fill="#6CA8F5" /><ellipse cx="318.1" cy="397.4" rx="2.6" ry="3.2" fill="#6CA8F5" transform="rotate(0 318.1 397.4)"/><polyline points="220.3,302.1 221.5,299.5 223.6,298.5 226.7,297.4 229.8,295.9 232.8,295.9 235.9,297.4 238.5,295.9 241.1,293.8 244.2,291.3 247.2,289.7 249.3,288.7 250.3,286.1" fill="none" stroke="#0A2878" stroke-width="7.0" stroke-linejoin="round" stroke-linecap="round"/><polyline points="250.3,286.1 252.4,284.1 254.4,282.0 257.5,279.4 260.6,278.9 263.7,279.4 265.7,277.9 267.8,276.3" fill="none" stroke="#0A2878" stroke-width="5.0" stroke-linejoin="round" stroke-linecap="round"/><polyline points="267.8,276.3 269.8,274.3 272.9,272.2 275.0,271.5 278.1,271.7 281.1,272.2 283.7,272.2 286.3,271.7 289.4,270.9 291.9,270.2" fill="none" stroke="#0A2878" stroke-width="2.5" stroke-linejoin="round" stroke-linecap="round"/><polyline points="307.9,278.9 308.9,281.5 309.9,283.5 309.9,286.1 309.4,288.7 308.4,290.7 307.9,293.3 308.4,295.9 308.4,299.0 307.4,301.5 305.8,303.1" fill="none" stroke="#0A2878" stroke-width="2.5" stroke-linejoin="round" stroke-linecap="round"/><ellipse cx="246.6" cy="316.0" rx="2.6" ry="3.6" fill="#0A2878" transform="rotate(0 246.6 316.0)"/><ellipse cx="243.0" cy="330.0" rx="3.0" ry="4.0" fill="#0A2878" transform="rotate(0 243.0 330.0)"/><path d="M269.0,286.0C270.1,283.8 272.1,280.0 276.0,278.0C279.9,276.0 284.9,275.2 290.0,275.0C295.1,274.8 300.5,275.5 304.0,277.0C307.5,278.5 308.6,280.2 309.0,283.0C309.4,285.8 306.9,288.1 306.0,292.0C305.1,295.9 305.5,299.6 304.0,304.0C302.5,308.4 300.6,312.7 298.0,316.0C295.4,319.3 293.3,319.6 290.0,322.0C286.7,324.4 283.1,328.1 280.0,329.0C276.9,329.9 274.8,328.6 273.0,327.0C271.2,325.4 270.2,322.8 270.0,320.0C269.8,317.2 270.9,315.3 272.0,312.0C273.1,308.7 274.9,305.3 276.0,302.0C277.1,298.7 279.1,296.2 278.0,294.0C276.9,291.8 271.6,291.5 270.0,290.0C268.4,288.5 267.9,288.2 269.0,286.0Z" fill="#F4A27A" /><path d="M274.0,317.0C273.7,314.3 273.7,311.3 274.6,308.0C275.5,304.7 276.5,301.7 279.0,299.0C281.5,296.3 284.9,294.7 288.0,293.5C291.1,292.3 294.0,291.7 296.0,292.5C298.0,293.3 298.4,295.2 299.0,298.0C299.6,300.8 299.9,304.7 299.0,308.0C298.1,311.3 296.4,313.5 294.0,316.0C291.6,318.5 288.6,319.9 286.0,321.5C283.4,323.1 281.8,324.6 280.0,324.8C278.2,325.0 277.1,323.9 276.0,322.5C274.9,321.1 274.3,319.7 274.0,317.0Z" fill="#F8C880" /><path d="M277.0,316.0C276.3,314.2 276.9,311.1 278.0,308.0C279.1,304.9 280.4,301.0 283.0,299.0C285.6,297.0 289.4,296.6 292.0,297.0C294.6,297.4 296.3,298.8 297.0,301.0C297.7,303.2 297.3,306.4 296.0,309.0C294.7,311.6 292.6,313.4 290.0,315.0C287.4,316.6 284.4,317.8 282.0,318.0C279.6,318.2 277.7,317.8 277.0,316.0Z" fill="#FFFF00" /><ellipse cx="250.6" cy="300.6" rx="1.4" ry="1.8" fill="#F4A27A" transform="rotate(0 250.6 300.6)"/>
</g>
<text x="249.20" y="256.71" font-size="5.45" font-weight="bold" text-anchor="middle" fill="#111" stroke="#111" stroke-width="0.18">126°15'0&quot;E</text><line x1="249.20" y1="258.80" x2="249.20" y2="260.00" stroke="#777" stroke-width="0.6"/><text x="303.64" y="256.71" font-size="5.45" font-weight="bold" text-anchor="middle" fill="#111" stroke="#111" stroke-width="0.18">126°30'0&quot;E</text><line x1="303.64" y1="258.80" x2="303.64" y2="260.00" stroke="#777" stroke-width="0.6"/><text x="242.65" y="485.39" font-size="5.45" font-weight="bold" text-anchor="middle" fill="#111" stroke="#111" stroke-width="0.18">126°15'0&quot;E</text><line x1="242.65" y1="478.40" x2="242.65" y2="479.60" stroke="#777" stroke-width="0.6"/><text x="297.09" y="485.39" font-size="5.45" font-weight="bold" text-anchor="middle" fill="#111" stroke="#111" stroke-width="0.18">126°30'0&quot;E</text><line x1="297.09" y1="478.40" x2="297.09" y2="479.60" stroke="#777" stroke-width="0.6"/><text transform="translate(194.83,287.26) rotate(-90)" font-size="5.45" font-weight="bold" text-anchor="middle" fill="#111" stroke="#111" stroke-width="0.18">42°0'0&quot;N</text><line x1="196.40" y1="287.26" x2="197.60" y2="287.26" stroke="#777" stroke-width="0.6"/><text transform="translate(194.83,360.25) rotate(-90)" font-size="5.45" font-weight="bold" text-anchor="middle" fill="#111" stroke="#111" stroke-width="0.18">41°45'0&quot;N</text><line x1="196.40" y1="360.25" x2="197.60" y2="360.25" stroke="#777" stroke-width="0.6"/><text transform="translate(194.83,433.15) rotate(-90)" font-size="5.45" font-weight="bold" text-anchor="middle" fill="#111" stroke="#111" stroke-width="0.18">41°30'0&quot;N</text><line x1="196.40" y1="433.15" x2="197.60" y2="433.15" stroke="#777" stroke-width="0.6"/><text transform="translate(356.68,291.52) rotate(-90)" font-size="5.45" font-weight="bold" text-anchor="middle" fill="#111" stroke="#111" stroke-width="0.18">42°0'0&quot;N</text><line x1="350.00" y1="291.52" x2="351.20" y2="291.52" stroke="#777" stroke-width="0.6"/><text transform="translate(356.68,364.53) rotate(-90)" font-size="5.45" font-weight="bold" text-anchor="middle" fill="#111" stroke="#111" stroke-width="0.18">41°45'0&quot;N</text><line x1="350.00" y1="364.53" x2="351.20" y2="364.53" stroke="#777" stroke-width="0.6"/><text transform="translate(356.68,437.54) rotate(-90)" font-size="5.45" font-weight="bold" text-anchor="middle" fill="#111" stroke="#111" stroke-width="0.18">41°30'0&quot;N</text><line x1="350.00" y1="437.54" x2="351.20" y2="437.54" stroke="#777" stroke-width="0.6"/>
<g transform="translate(335.52,276.42) scale(1.028)"><circle r="4.8" fill="#fff" stroke="#1a1a1a" stroke-width="1.05"/><circle r="3.1" fill="#f3f9fb" stroke="#777" stroke-width="0.3"/><path d="M0,0 L-0.9,-0.9 L-4.3,-4.3 L-0.9,0.9 Z M0,0 L0.9,-0.9 L4.3,-4.3 L0.9,0.9Z M0,0 L0.9,0.9 L4.3,4.3 L-0.9,0.9Z M0,0 L-0.9,0.9 L-4.3,4.3 L-0.9,-0.9Z" fill="#555" opacity="0.28"/><path d="M0,-8.4 L1.4,-1.4 L8,0 L1.4,1.4 L0,8.8 L-1.4,1.4 L-8,0 L-1.4,-1.4 Z" fill="#fff" stroke="#222" stroke-width="0.45"/><path d="M0,-8.4 L0,0 L-1.4,-1.4 Z M8,0 L0,0 L1.4,-1.4 Z M0,8.8 L0,0 L1.4,1.4Z M-8,0 L0,0 L-1.4,1.4Z" fill="#222"/><text x="0.0" y="-10.0" font-size="3" font-weight="bold" text-anchor="middle" fill="#111">N</text><text x="0.0" y="12.9" font-size="3" font-weight="bold" text-anchor="middle" fill="#111">S</text><text x="-11.3" y="1.0" font-size="3" font-weight="bold" text-anchor="middle" fill="#111">W</text><text x="10.7" y="1.0" font-size="3" font-weight="bold" text-anchor="middle" fill="#111">E</text></g>
<rect x="310.68" y="466.07" width="26.14" height="2.16" fill="#fff" stroke="#000" stroke-width="0.4"/><rect x="310.68" y="466.07" width="8.71" height="2.16" fill="#000"/><rect x="328.11" y="466.07" width="8.71" height="2.16" fill="#000"/><text x="310.68" y="463.45" font-size="5.04" text-anchor="middle" fill="#111">0</text><text x="323.75" y="463.45" font-size="5.04" text-anchor="middle" fill="#111">5</text><text x="336.82" y="463.45" font-size="5.04" text-anchor="middle" fill="#111">10</text><text x="338.15" y="468.49" font-size="4.42" fill="#111">KM</text>
<text x="201.8" y="426.6" font-size="7.1" font-weight="bold" fill="#111" stroke="#111" stroke-width="0.15">Building distribution</text><rect x="201.6" y="432.20" width="8.4" height="3.6" fill="#0A2878" stroke="#999" stroke-width="0.25"/><text x="213.0" y="436.12" font-size="5.9" font-weight="bold" fill="#111" stroke="#111" stroke-width="0.12">None</text><rect x="201.6" y="440.40" width="8.4" height="3.6" fill="#6CA8F5" stroke="#999" stroke-width="0.25"/><text x="213.0" y="444.32" font-size="5.9" font-weight="bold" fill="#111" stroke="#111" stroke-width="0.12">Less</text><rect x="201.6" y="448.80" width="8.4" height="3.6" fill="#F4A27A" stroke="#999" stroke-width="0.25"/><text x="213.0" y="452.72" font-size="5.9" font-weight="bold" fill="#111" stroke="#111" stroke-width="0.12">Generally</text><rect x="201.6" y="456.80" width="8.4" height="3.6" fill="#F8C880" stroke="#999" stroke-width="0.25"/><text x="213.0" y="460.72" font-size="5.9" font-weight="bold" fill="#111" stroke="#111" stroke-width="0.12">Many</text><rect x="201.6" y="465.20" width="8.4" height="3.6" fill="#FFFF00" stroke="#999" stroke-width="0.25"/><text x="213.0" y="469.12" font-size="5.9" font-weight="bold" fill="#111" stroke="#111" stroke-width="0.12">Much</text>
<text x="213.1" y="277.5" font-size="13.7" text-anchor="middle" fill="#111" stroke="#111" stroke-width="0.2">(n)</text>
</g>
<g id="panel-o">
<rect x="384.4" y="257.6" width="156.2" height="222.8" fill="#fff" stroke="#8a8a8a" stroke-width="1"/>
<g clip-path="url(#co)">
<rect x="384.4" y="257.6" width="156.2" height="222.8" fill="#A3C9A0"/><path d="M436.0,288.0C436.9,290.0 439.4,287.6 441.0,287.0C442.6,286.4 443.5,285.9 445.0,285.0C446.5,284.1 447.4,282.7 449.0,282.0C450.6,281.3 452.4,281.5 454.0,281.0C455.6,280.5 456.6,280.4 457.5,279.5C458.4,278.6 458.5,278.1 459.0,276.0C459.5,273.9 461.6,269.8 460.0,268.0C458.4,266.2 454.4,264.5 450.0,266.0C445.6,267.5 438.6,272.0 436.0,276.0C433.4,280.0 435.1,286.0 436.0,288.0Z" fill="#2E8CCB" /><path d="M467.5,269.5C468.0,268.6 469.6,268.5 471.0,268.0C472.4,267.5 473.5,267.4 475.0,267.0C476.5,266.6 477.5,266.6 479.0,266.0C480.5,265.4 481.0,264.4 483.0,264.0C485.0,263.6 487.6,263.3 490.0,264.0C492.4,264.7 495.3,266.3 496.0,268.0C496.7,269.7 494.6,271.8 494.0,273.5C493.4,275.2 493.7,276.7 493.0,277.5C492.3,278.3 491.1,278.5 490.0,278.0C488.9,277.5 488.1,275.8 487.0,275.0C485.9,274.2 485.3,273.9 484.0,273.5C482.7,273.1 481.5,273.2 480.0,273.0C478.5,272.8 477.5,272.4 476.0,272.5C474.5,272.6 473.4,273.4 472.0,273.5C470.6,273.6 469.3,273.7 468.5,273.0C467.7,272.3 467.0,270.4 467.5,269.5Z" fill="#2E8CCB" /><ellipse cx="481.5" cy="283.5" rx="0.8" ry="1.4" fill="#2E8CCB" transform="rotate(0 481.5 283.5)"/><ellipse cx="428.0" cy="294.0" rx="2.5" ry="1.5" fill="#2E8CCB" transform="rotate(0 428.0 294.0)"/><polygon points="512.0,338.0 508.5,335.0 504.0,333.0 501.0,336.0 499.0,340.0 495.0,343.0 491.5,345.0 490.5,349.0 490.0,354.0 491.0,357.0 490.0,360.0 486.0,365.0 480.0,369.0 475.0,372.0 469.0,374.0 467.0,380.0 466.0,385.0 464.0,392.0 455.0,396.0 440.0,398.0 440.0,490.0 560.0,490.0 560.0,325.0" fill="#2E8CCB" /><path d="M461.5,339.5C462.1,338.9 463.6,338.5 465.0,338.5C466.4,338.5 467.4,339.1 469.0,339.5C470.6,339.9 472.6,339.7 473.5,340.5C474.4,341.3 474.4,342.5 474.0,344.0C473.6,345.5 472.7,346.9 471.5,348.5C470.3,350.1 469.1,351.5 467.5,353.0C465.9,354.5 464.7,355.3 463.0,356.5C461.3,357.7 459.8,358.5 458.0,359.5C456.2,360.5 454.8,361.1 453.0,362.0C451.2,362.9 449.6,363.6 448.0,364.5C446.4,365.4 445.6,366.5 444.5,367.0C443.4,367.5 442.6,367.5 442.0,367.0C441.4,366.5 441.2,365.4 441.5,364.5C441.8,363.6 442.5,363.3 443.5,362.0C444.5,360.7 445.5,359.0 447.0,357.3C448.5,355.6 449.9,354.4 451.5,352.8C453.1,351.2 454.5,349.9 456.0,348.5C457.5,347.1 458.5,346.2 459.5,345.0C460.5,343.8 461.1,343.0 461.5,342.0C461.9,341.0 460.9,340.1 461.5,339.5Z" fill="#2E8CCB" /><ellipse cx="468.5" cy="329.0" rx="1.5" ry="1.5" fill="#2E8CCB" transform="rotate(0 468.5 329.0)"/><path d="M456.5,334.0C456.9,334.7 457.6,336.9 458.5,338.0C459.4,339.1 460.9,339.6 461.5,340.0" fill="none" stroke="#2E8CCB" stroke-width="1.30" stroke-linecap="round" stroke-linejoin="round" /><path d="M437.0,295.0C437.4,293.5 438.4,292.1 440.0,291.0C441.6,289.9 444.2,288.8 446.0,289.0C447.8,289.2 449.2,290.5 449.6,292.0C450.0,293.5 449.2,295.5 448.0,297.0C446.8,298.5 444.8,299.6 443.0,300.0C441.2,300.4 439.1,299.9 438.0,299.0C436.9,298.1 436.6,296.5 437.0,295.0Z" fill="#FFFF5F" /><path d="M417.0,307.0C417.6,305.9 419.2,304.6 421.0,304.0C422.8,303.4 425.4,303.4 427.0,304.0C428.6,304.6 430.0,305.7 430.0,307.0C430.0,308.3 428.6,310.1 427.0,311.0C425.4,311.9 422.6,312.2 421.0,312.0C419.4,311.8 418.7,310.9 418.0,310.0C417.3,309.1 416.4,308.1 417.0,307.0Z" fill="#FFFF5F" /><path d="M470.0,279.0C470.6,278.1 471.7,277.3 473.0,277.0C474.3,276.7 475.9,276.8 477.0,277.5C478.1,278.2 478.8,279.6 479.0,281.0C479.2,282.4 478.6,283.8 478.0,285.0C477.4,286.2 475.9,286.4 475.5,287.5C475.1,288.6 475.2,290.1 476.0,291.0C476.8,291.9 478.4,292.7 480.0,292.5C481.6,292.3 483.2,291.0 485.0,290.0C486.8,289.0 488.2,288.2 490.0,287.0C491.8,285.8 493.4,284.6 495.0,283.5C496.6,282.4 497.5,280.9 499.0,281.0C500.5,281.1 502.8,282.0 503.0,284.0C503.2,286.0 501.2,289.4 500.0,292.0C498.8,294.6 497.9,296.2 496.4,298.0C494.9,299.8 493.4,300.4 492.0,302.0C490.6,303.6 489.4,305.2 489.0,307.0C488.6,308.8 489.5,310.0 490.0,312.0C490.5,314.0 491.5,316.4 491.5,318.0C491.5,319.6 490.7,320.0 490.0,321.0C489.3,322.0 487.6,322.7 487.5,323.5C487.4,324.3 489.6,324.9 489.5,325.5C489.4,326.1 487.8,325.8 487.0,326.5C486.2,327.2 485.7,329.4 485.0,329.5C484.3,329.6 483.4,328.0 483.0,327.0C482.6,326.0 482.8,325.3 483.0,324.0C483.2,322.7 484.4,320.6 484.0,320.0C483.6,319.4 482.1,320.4 481.0,321.0C479.9,321.6 479.3,322.9 478.0,323.5C476.7,324.1 475.5,323.5 474.0,324.0C472.5,324.5 471.5,326.0 470.0,326.0C468.5,326.0 467.4,325.1 466.0,324.0C464.6,322.9 463.1,322.0 462.4,320.0C461.7,318.0 461.8,315.4 462.0,313.0C462.2,310.6 462.7,309.2 463.6,307.0C464.5,304.8 466.0,302.6 467.0,301.0C468.0,299.4 469.2,299.1 469.0,298.0C468.8,296.9 466.7,296.5 466.0,295.0C465.3,293.5 464.8,291.8 465.0,290.0C465.2,288.2 466.1,286.5 467.0,285.0C467.9,283.5 469.4,283.1 470.0,282.0C470.6,280.9 469.4,279.9 470.0,279.0Z" fill="#FFFF5F" /><path d="M434.0,314.0C435.1,312.9 436.7,313.1 438.0,312.0C439.3,310.9 439.5,308.6 441.0,308.0C442.5,307.4 444.5,307.8 446.0,308.5C447.5,309.2 447.9,310.6 449.0,312.0C450.1,313.4 450.0,314.9 452.0,316.0C454.0,317.1 457.4,317.4 460.0,318.0C462.6,318.6 464.4,317.9 466.0,319.0C467.6,320.1 469.0,322.5 469.0,324.0C469.0,325.5 467.6,326.1 466.0,327.0C464.4,327.9 461.6,327.7 460.0,329.0C458.4,330.3 457.2,332.2 457.0,334.0C456.8,335.8 458.6,337.3 459.0,339.0C459.4,340.7 459.6,342.0 459.0,343.5C458.4,345.0 457.0,346.4 455.5,347.0C454.0,347.6 452.5,347.5 451.0,346.5C449.5,345.5 448.6,343.2 447.5,341.5C446.4,339.8 446.0,338.1 445.0,337.0C444.0,335.9 443.3,336.2 442.0,335.5C440.7,334.8 439.6,333.6 438.0,333.0C436.4,332.4 434.8,332.4 433.0,332.0C431.2,331.6 428.6,332.1 428.0,331.0C427.4,329.9 429.1,327.6 430.0,326.0C430.9,324.4 432.6,323.5 433.0,322.0C433.4,320.5 431.8,319.5 432.0,318.0C432.2,316.5 432.9,315.1 434.0,314.0Z" fill="#FFFF5F" /><ellipse cx="494.5" cy="334.0" rx="3.4" ry="3.8" fill="#FFFF5F" transform="rotate(0 494.5 334.0)"/><ellipse cx="503.5" cy="325.5" rx="2.5" ry="2.5" fill="#FFFF5F" transform="rotate(0 503.5 325.5)"/><ellipse cx="499.0" cy="329.0" rx="1.0" ry="1.2" fill="#FFFF5F" transform="rotate(0 499.0 329.0)"/><path d="M479.0,342.0C480.3,342.0 482.5,342.7 484.0,344.0C485.5,345.3 486.3,347.2 487.0,349.0C487.7,350.8 487.6,352.2 488.0,354.0C488.4,355.8 489.6,357.2 489.0,359.0C488.4,360.8 486.6,362.4 485.0,364.0C483.4,365.6 481.8,366.7 480.0,368.0C478.2,369.3 477.0,370.1 475.0,371.0C473.0,371.9 470.5,371.7 469.0,373.0C467.5,374.3 467.7,376.0 467.0,378.0C466.3,380.0 465.9,381.6 465.0,384.0C464.1,386.4 464.8,389.5 462.0,391.0C459.2,392.5 453.1,392.0 450.0,392.0C446.9,392.0 446.6,392.6 445.0,391.0C443.4,389.4 441.6,385.8 441.0,383.0C440.4,380.2 441.3,378.2 442.0,376.0C442.7,373.8 443.5,372.5 445.0,371.0C446.5,369.5 448.0,369.3 450.0,368.0C452.0,366.7 453.8,365.3 456.0,364.0C458.2,362.7 459.8,362.3 462.0,361.0C464.2,359.7 466.2,358.5 468.0,357.0C469.8,355.5 470.7,354.6 472.0,353.0C473.3,351.4 474.1,349.6 475.0,348.0C475.9,346.4 476.3,345.1 477.0,344.0C477.7,342.9 477.7,342.0 479.0,342.0Z" fill="#A3C9A0" stroke="#A3C9A0" stroke-width="5" stroke-linejoin="round"/><path d="M479.0,342.0C480.3,342.0 482.5,342.7 484.0,344.0C485.5,345.3 486.3,347.2 487.0,349.0C487.7,350.8 487.6,352.2 488.0,354.0C488.4,355.8 489.6,357.2 489.0,359.0C488.4,360.8 486.6,362.4 485.0,364.0C483.4,365.6 481.8,366.7 480.0,368.0C478.2,369.3 477.0,370.1 475.0,371.0C473.0,371.9 470.5,371.7 469.0,373.0C467.5,374.3 467.7,376.0 467.0,378.0C466.3,380.0 465.9,381.6 465.0,384.0C464.1,386.4 464.8,389.5 462.0,391.0C459.2,392.5 453.1,392.0 450.0,392.0C446.9,392.0 446.6,392.6 445.0,391.0C443.4,389.4 441.6,385.8 441.0,383.0C440.4,380.2 441.3,378.2 442.0,376.0C442.7,373.8 443.5,372.5 445.0,371.0C446.5,369.5 448.0,369.3 450.0,368.0C452.0,366.7 453.8,365.3 456.0,364.0C458.2,362.7 459.8,362.3 462.0,361.0C464.2,359.7 466.2,358.5 468.0,357.0C469.8,355.5 470.7,354.6 472.0,353.0C473.3,351.4 474.1,349.6 475.0,348.0C475.9,346.4 476.3,345.1 477.0,344.0C477.7,342.9 477.7,342.0 479.0,342.0Z" fill="#FFFF5F" /><path d="M464.0,309.0C464.7,307.0 465.7,304.0 467.0,302.0C468.3,300.0 469.2,299.3 471.0,298.0C472.8,296.7 474.8,295.7 477.0,295.0C479.2,294.3 481.2,293.8 483.0,294.0C484.8,294.2 486.1,294.7 487.0,296.0C487.9,297.3 488.2,299.0 488.0,301.0C487.8,303.0 486.9,305.0 486.0,307.0C485.1,309.0 484.3,310.2 483.0,312.0C481.7,313.8 480.6,315.5 479.0,317.0C477.4,318.5 475.6,318.9 474.0,320.0C472.4,321.1 471.5,322.6 470.0,323.0C468.5,323.4 467.1,323.1 466.0,322.0C464.9,320.9 464.6,318.6 464.0,317.0C463.4,315.4 463.0,314.5 463.0,313.0C463.0,311.5 463.3,311.0 464.0,309.0Z" fill="#FA8F28" /><path d="M439.0,330.0C439.4,328.3 441.2,327.1 443.0,326.0C444.8,324.9 446.8,324.6 449.0,324.0C451.2,323.4 453.0,323.1 455.0,322.5C457.0,321.9 458.2,321.2 460.0,320.5C461.8,319.8 463.6,318.2 465.0,318.5C466.4,318.8 467.9,320.7 467.5,322.0C467.1,323.3 464.7,324.4 463.0,325.5C461.3,326.6 459.8,327.1 458.0,328.0C456.2,328.9 454.6,329.5 453.0,330.5C451.4,331.5 450.5,332.4 449.0,333.5C447.5,334.6 446.5,336.1 445.0,336.5C443.5,336.9 442.1,336.7 441.0,335.5C439.9,334.3 438.6,331.7 439.0,330.0Z" fill="#FA8F28" /><path d="M481.0,347.0C481.7,347.4 482.8,348.4 483.0,350.0C483.2,351.6 482.7,354.0 482.0,356.0C481.3,358.0 480.3,359.4 479.0,361.0C477.7,362.6 476.6,363.7 475.0,365.0C473.4,366.3 471.8,367.1 470.0,368.0C468.2,368.9 466.3,368.7 465.0,370.0C463.7,371.3 463.6,373.0 463.0,375.0C462.4,377.0 462.6,378.6 462.0,381.0C461.4,383.4 461.5,386.5 460.0,388.0C458.5,389.5 456.0,388.4 454.0,389.0C452.0,389.6 450.6,391.9 449.0,391.0C447.4,390.1 445.6,386.6 445.0,384.0C444.4,381.4 445.1,379.2 446.0,377.0C446.9,374.8 448.2,373.6 450.0,372.0C451.8,370.4 453.8,369.3 456.0,368.0C458.2,366.7 459.8,366.3 462.0,365.0C464.2,363.7 466.0,362.5 468.0,361.0C470.0,359.5 471.4,358.8 473.0,357.0C474.6,355.2 475.9,352.6 477.0,351.0C478.1,349.4 478.3,348.7 479.0,348.0C479.7,347.3 480.3,346.6 481.0,347.0Z" fill="#FA8F28" /><ellipse cx="497.0" cy="296.0" rx="1.0" ry="2.0" fill="#FA8F28" transform="rotate(0 497.0 296.0)"/><path d="M469.0,301.0C470.1,299.5 471.4,299.4 473.0,299.0C474.6,298.6 476.4,298.6 478.0,299.0C479.6,299.4 481.3,299.7 482.0,301.0C482.7,302.3 482.4,304.2 482.0,306.0C481.6,307.8 481.1,309.5 480.0,311.0C478.9,312.5 477.6,313.2 476.0,314.0C474.4,314.8 472.5,315.8 471.0,315.6C469.5,315.4 468.3,314.6 467.6,313.0C466.9,311.4 466.7,309.2 467.0,307.0C467.3,304.8 467.9,302.5 469.0,301.0Z" fill="#E6141C" /><ellipse cx="504.0" cy="370.0" rx="3.6" ry="4.6" fill="#A3C9A0" transform="rotate(0 504.0 370.0)"/><ellipse cx="491.0" cy="395.0" rx="3.4" ry="1.8" fill="#A3C9A0" transform="rotate(0 491.0 395.0)"/>
</g>
<text x="437.29" y="254.23" font-size="5.58" font-weight="bold" text-anchor="middle" fill="#111" stroke="#111" stroke-width="0.18">126°15'0&quot;E</text><line x1="437.29" y1="256.40" x2="437.29" y2="257.60" stroke="#777" stroke-width="0.6"/><text x="493.08" y="254.23" font-size="5.58" font-weight="bold" text-anchor="middle" fill="#111" stroke="#111" stroke-width="0.18">126°30'0&quot;E</text><line x1="493.08" y1="256.40" x2="493.08" y2="257.60" stroke="#777" stroke-width="0.6"/><text x="430.57" y="487.56" font-size="5.58" font-weight="bold" text-anchor="middle" fill="#111" stroke="#111" stroke-width="0.18">126°15'0&quot;E</text><line x1="430.57" y1="480.40" x2="430.57" y2="481.60" stroke="#777" stroke-width="0.6"/><text x="486.37" y="487.56" font-size="5.58" font-weight="bold" text-anchor="middle" fill="#111" stroke="#111" stroke-width="0.18">126°30'0&quot;E</text><line x1="486.37" y1="480.40" x2="486.37" y2="481.60" stroke="#777" stroke-width="0.6"/><text transform="translate(381.56,285.41) rotate(-90)" font-size="5.58" font-weight="bold" text-anchor="middle" fill="#111" stroke="#111" stroke-width="0.18">42°0'0&quot;N</text><line x1="383.20" y1="285.41" x2="384.40" y2="285.41" stroke="#777" stroke-width="0.6"/><text transform="translate(381.56,359.87) rotate(-90)" font-size="5.58" font-weight="bold" text-anchor="middle" fill="#111" stroke="#111" stroke-width="0.18">41°45'0&quot;N</text><line x1="383.20" y1="359.87" x2="384.40" y2="359.87" stroke="#777" stroke-width="0.6"/><text transform="translate(381.56,434.24) rotate(-90)" font-size="5.58" font-weight="bold" text-anchor="middle" fill="#111" stroke="#111" stroke-width="0.18">41°30'0&quot;N</text><line x1="383.20" y1="434.24" x2="384.40" y2="434.24" stroke="#777" stroke-width="0.6"/><text transform="translate(547.45,289.75) rotate(-90)" font-size="5.58" font-weight="bold" text-anchor="middle" fill="#111" stroke="#111" stroke-width="0.18">42°0'0&quot;N</text><line x1="540.60" y1="289.75" x2="541.80" y2="289.75" stroke="#777" stroke-width="0.6"/><text transform="translate(547.45,364.23) rotate(-90)" font-size="5.58" font-weight="bold" text-anchor="middle" fill="#111" stroke="#111" stroke-width="0.18">41°45'0&quot;N</text><line x1="540.60" y1="364.23" x2="541.80" y2="364.23" stroke="#777" stroke-width="0.6"/><text transform="translate(547.45,438.71) rotate(-90)" font-size="5.58" font-weight="bold" text-anchor="middle" fill="#111" stroke="#111" stroke-width="0.18">41°30'0&quot;N</text><line x1="540.60" y1="438.71" x2="541.80" y2="438.71" stroke="#777" stroke-width="0.6"/>
<g transform="translate(525.76,274.35) scale(1.053)"><circle r="4.8" fill="#fff" stroke="#1a1a1a" stroke-width="1.05"/><circle r="3.1" fill="#f3f9fb" stroke="#777" stroke-width="0.3"/><path d="M0,0 L-0.9,-0.9 L-4.3,-4.3 L-0.9,0.9 Z M0,0 L0.9,-0.9 L4.3,-4.3 L0.9,0.9Z M0,0 L0.9,0.9 L4.3,4.3 L-0.9,0.9Z M0,0 L-0.9,0.9 L-4.3,4.3 L-0.9,-0.9Z" fill="#555" opacity="0.28"/><path d="M0,-8.4 L1.4,-1.4 L8,0 L1.4,1.4 L0,8.8 L-1.4,1.4 L-8,0 L-1.4,-1.4 Z" fill="#fff" stroke="#222" stroke-width="0.45"/><path d="M0,-8.4 L0,0 L-1.4,-1.4 Z M8,0 L0,0 L1.4,-1.4 Z M0,8.8 L0,0 L1.4,1.4Z M-8,0 L0,0 L-1.4,1.4Z" fill="#222"/><text x="0.0" y="-10.0" font-size="3" font-weight="bold" text-anchor="middle" fill="#111">N</text><text x="0.0" y="12.9" font-size="3" font-weight="bold" text-anchor="middle" fill="#111">S</text><text x="-11.3" y="1.0" font-size="3" font-weight="bold" text-anchor="middle" fill="#111">W</text><text x="10.7" y="1.0" font-size="3" font-weight="bold" text-anchor="middle" fill="#111">E</text></g>
<rect x="500.30" y="467.82" width="26.79" height="2.21" fill="#fff" stroke="#000" stroke-width="0.4"/><rect x="500.30" y="467.82" width="8.93" height="2.21" fill="#000"/><rect x="518.16" y="467.82" width="8.93" height="2.21" fill="#000"/><text x="500.30" y="465.13" font-size="5.16" text-anchor="middle" fill="#111">0</text><text x="513.69" y="465.13" font-size="5.16" text-anchor="middle" fill="#111">5</text><text x="527.09" y="465.13" font-size="5.16" text-anchor="middle" fill="#111">10</text><text x="528.46" y="470.30" font-size="4.53" fill="#111">KM</text>
<text x="393.0" y="412.9" font-size="7.9" font-weight="bold" fill="#111" stroke="#111" stroke-width="0.15">People density</text><text x="393.0" y="422.2" font-size="6.3" font-weight="bold" fill="#111" stroke="#111" stroke-width="0.1">(person/km²)</text><rect x="393.0" y="427.10" width="8.0" height="3.8" fill="#2E8CCB" stroke="#999" stroke-width="0.25"/><text x="402.0" y="431.48" font-size="6.9" font-weight="bold" fill="#111" stroke="#111" stroke-width="0.12">&lt;225</text><rect x="393.0" y="436.10" width="8.0" height="3.8" fill="#A3C9A0" stroke="#999" stroke-width="0.25"/><text x="402.0" y="440.48" font-size="6.9" font-weight="bold" fill="#111" stroke="#111" stroke-width="0.12">226-275</text><rect x="393.0" y="445.50" width="8.0" height="3.8" fill="#FFFF66" stroke="#999" stroke-width="0.25"/><text x="402.0" y="449.88" font-size="6.9" font-weight="bold" fill="#111" stroke="#111" stroke-width="0.12">276-338</text><rect x="393.0" y="454.70" width="8.0" height="3.8" fill="#FA8F28" stroke="#999" stroke-width="0.25"/><text x="402.0" y="459.08" font-size="6.9" font-weight="bold" fill="#111" stroke="#111" stroke-width="0.12">339-517</text><rect x="393.0" y="463.70" width="8.0" height="3.8" fill="#E6141C" stroke="#999" stroke-width="0.25"/><text x="402.0" y="468.08" font-size="6.9" font-weight="bold" fill="#111" stroke="#111" stroke-width="0.12">&gt;517</text>
<text x="400.3" y="275.4" font-size="14.0" text-anchor="middle" fill="#111" stroke="#111" stroke-width="0.2">(o)</text>
</g>
</svg></body></html>
